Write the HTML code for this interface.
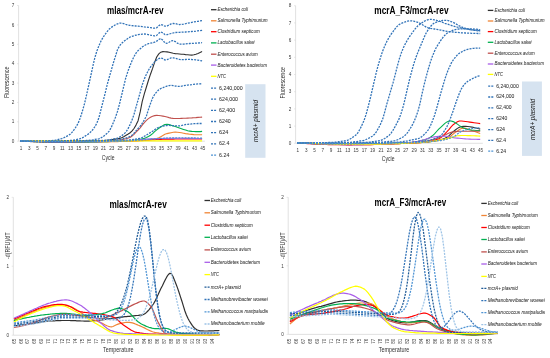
<!DOCTYPE html><html><head><meta charset="utf-8"><style>html,body{margin:0;padding:0;background:#fff;width:550px;height:358px;overflow:hidden}</style></head><body><svg width="550" height="358" viewBox="0 0 550 358" style="will-change:transform;position:absolute;left:0;top:0;font-family:'Liberation Sans', sans-serif"><rect width="550" height="358" fill="#fff"/><path d="M18.6,5.5V141.2H204.9" fill="none" stroke="#D9D9D9" stroke-width="0.8"/><path d="M17.0,141.2H18.6" stroke="#D9D9D9" stroke-width="0.6"/><text x="13.00" y="142.85" font-size="4.60" fill="#3a3a3a" text-anchor="middle">0</text><path d="M17.0,121.8H18.6" stroke="#D9D9D9" stroke-width="0.6"/><text x="13.00" y="123.47" font-size="4.60" fill="#3a3a3a" text-anchor="middle">1</text><path d="M17.0,102.4H18.6" stroke="#D9D9D9" stroke-width="0.6"/><text x="13.00" y="104.09" font-size="4.60" fill="#3a3a3a" text-anchor="middle">2</text><path d="M17.0,83.1H18.6" stroke="#D9D9D9" stroke-width="0.6"/><text x="13.00" y="84.71" font-size="4.60" fill="#3a3a3a" text-anchor="middle">3</text><path d="M17.0,63.7H18.6" stroke="#D9D9D9" stroke-width="0.6"/><text x="13.00" y="65.33" font-size="4.60" fill="#3a3a3a" text-anchor="middle">4</text><path d="M17.0,44.3H18.6" stroke="#D9D9D9" stroke-width="0.6"/><text x="13.00" y="45.95" font-size="4.60" fill="#3a3a3a" text-anchor="middle">5</text><path d="M17.0,24.9H18.6" stroke="#D9D9D9" stroke-width="0.6"/><text x="13.00" y="26.57" font-size="4.60" fill="#3a3a3a" text-anchor="middle">6</text><path d="M17.0,5.5H18.6" stroke="#D9D9D9" stroke-width="0.6"/><text x="13.00" y="7.19" font-size="4.60" fill="#3a3a3a" text-anchor="middle">7</text><text x="21.00" y="150.15" font-size="4.60" fill="#3a3a3a" text-anchor="middle">1</text><text x="29.26" y="150.15" font-size="4.60" fill="#3a3a3a" text-anchor="middle">3</text><text x="37.52" y="150.15" font-size="4.60" fill="#3a3a3a" text-anchor="middle">5</text><text x="45.78" y="150.15" font-size="4.60" fill="#3a3a3a" text-anchor="middle">7</text><text x="54.04" y="150.15" font-size="4.60" fill="#3a3a3a" text-anchor="middle">9</text><text x="62.30" y="150.15" font-size="4.60" fill="#3a3a3a" text-anchor="middle">11</text><text x="70.56" y="150.15" font-size="4.60" fill="#3a3a3a" text-anchor="middle">13</text><text x="78.82" y="150.15" font-size="4.60" fill="#3a3a3a" text-anchor="middle">15</text><text x="87.08" y="150.15" font-size="4.60" fill="#3a3a3a" text-anchor="middle">17</text><text x="95.34" y="150.15" font-size="4.60" fill="#3a3a3a" text-anchor="middle">19</text><text x="103.60" y="150.15" font-size="4.60" fill="#3a3a3a" text-anchor="middle">21</text><text x="111.86" y="150.15" font-size="4.60" fill="#3a3a3a" text-anchor="middle">23</text><text x="120.12" y="150.15" font-size="4.60" fill="#3a3a3a" text-anchor="middle">25</text><text x="128.38" y="150.15" font-size="4.60" fill="#3a3a3a" text-anchor="middle">27</text><text x="136.64" y="150.15" font-size="4.60" fill="#3a3a3a" text-anchor="middle">29</text><text x="144.90" y="150.15" font-size="4.60" fill="#3a3a3a" text-anchor="middle">31</text><text x="153.16" y="150.15" font-size="4.60" fill="#3a3a3a" text-anchor="middle">33</text><text x="161.42" y="150.15" font-size="4.60" fill="#3a3a3a" text-anchor="middle">35</text><text x="169.68" y="150.15" font-size="4.60" fill="#3a3a3a" text-anchor="middle">37</text><text x="177.94" y="150.15" font-size="4.60" fill="#3a3a3a" text-anchor="middle">39</text><text x="186.20" y="150.15" font-size="4.60" fill="#3a3a3a" text-anchor="middle">41</text><text x="194.46" y="150.15" font-size="4.60" fill="#3a3a3a" text-anchor="middle">43</text><text x="202.72" y="150.15" font-size="4.60" fill="#3a3a3a" text-anchor="middle">45</text><text x="108.20" y="159.50" font-size="6.40" fill="#333333" text-anchor="middle" textLength="12.70" lengthAdjust="spacingAndGlyphs">Cycle</text><text x="8.85" y="82.30" font-size="6.40" fill="#333333" text-anchor="middle" transform="rotate(-90 8.85 82.30)" textLength="31.40" lengthAdjust="spacingAndGlyphs">Fluorescence</text><text x="135.30" y="13.60" font-size="10.30" fill="#000" font-weight="bold" text-anchor="middle" textLength="56.60" lengthAdjust="spacingAndGlyphs">mlas/mcrA-rev</text><path d="M20.4,140.9L22.5,141.0 24.5,141.1 26.6,141.1 28.7,141.2 30.7,141.2 32.8,141.3 34.9,141.3 36.9,141.4 39.0,141.4 41.0,141.4 43.1,141.4 45.2,141.5 47.2,141.5 49.3,141.5 51.4,141.5 53.4,141.5 55.5,141.5 57.6,141.5 59.6,141.4 61.7,141.4 63.8,141.4 65.8,141.4 67.9,141.4 70.0,141.3 72.0,141.3 74.1,141.2 76.2,141.2 78.2,141.2 80.3,141.1 82.3,141.1 84.4,141.0 86.5,141.0 88.5,140.9 90.6,140.9 92.7,140.8 94.7,140.7 96.8,140.7 98.9,140.6 100.9,140.6 103.0,140.5 105.1,140.4 107.1,140.2 109.2,140.0 111.3,139.7 113.3,139.4 115.4,139.1 117.5,138.8 119.5,138.4 121.6,137.7 123.7,136.7 125.7,135.5 127.8,134.3 129.8,133.0 131.9,131.2 134.0,128.5 136.0,125.1 138.1,120.7 140.2,111.9 142.2,101.6 144.3,93.9 146.4,87.0 148.4,80.5 150.5,74.2 152.6,68.4 154.6,62.4 156.7,57.0 158.8,53.9 160.8,52.2 162.9,51.6 164.9,51.7 167.0,51.9 169.1,52.3 171.1,52.8 173.2,53.3 175.3,53.6 177.3,53.8 179.4,54.0 181.5,54.2 183.5,54.3 185.6,54.6 187.7,54.8 189.7,55.0 191.8,55.1 193.9,54.8 195.9,54.2 198.0,53.4 200.1,52.5 202.1,51.6" fill="none" stroke="#303030" stroke-width="1.10" stroke-linejoin="round"/><path d="M20.4,140.9L22.5,141.0 24.5,141.1 26.6,141.2 28.7,141.3 30.7,141.4 32.8,141.5 34.9,141.6 36.9,141.7 39.0,141.8 41.0,141.8 43.1,141.9 45.2,142.0 47.2,142.0 49.3,142.1 51.4,142.1 53.4,142.2 55.5,142.2 57.6,142.3 59.6,142.3 61.7,142.3 63.8,142.3 65.8,142.4 67.9,142.4 70.0,142.4 72.0,142.4 74.1,142.4 76.2,142.4 78.2,142.4 80.3,142.4 82.3,142.3 84.4,142.3 86.5,142.3 88.5,142.3 90.6,142.3 92.7,142.2 94.7,142.2 96.8,142.2 98.9,142.1 100.9,142.1 103.0,142.0 105.1,142.0 107.1,141.9 109.2,141.9 111.3,141.8 113.3,141.7 115.4,141.7 117.5,141.6 119.5,141.5 121.6,141.5 123.7,141.4 125.7,141.3 127.8,141.2 129.8,141.1 131.9,141.1 134.0,141.0 136.0,140.9 138.1,140.8 140.2,140.7 142.2,140.6 144.3,140.5 146.4,140.4 148.4,140.1 150.5,139.8 152.6,139.4 154.6,139.0 156.7,138.5 158.8,137.8 160.8,136.7 162.9,135.5 164.9,134.3 167.0,133.6 169.1,133.1 171.1,132.7 173.2,132.3 175.3,132.1 177.3,132.2 179.4,132.5 181.5,132.8 183.5,133.2 185.6,133.6 187.7,133.9 189.7,134.2 191.8,134.4 193.9,134.6 195.9,134.7 198.0,134.7 200.1,134.7 202.1,134.7" fill="none" stroke="#F08535" stroke-width="1.10" stroke-linejoin="round"/><path d="M20.4,140.9L22.5,140.9 24.5,141.0 26.6,141.0 28.7,141.0 30.7,141.1 32.8,141.1 34.9,141.1 36.9,141.2 39.0,141.2 41.0,141.2 43.1,141.2 45.2,141.2 47.2,141.3 49.3,141.3 51.4,141.3 53.4,141.3 55.5,141.3 57.6,141.4 59.6,141.4 61.7,141.4 63.8,141.4 65.8,141.4 67.9,141.4 70.0,141.4 72.0,141.4 74.1,141.4 76.2,141.4 78.2,141.4 80.3,141.4 82.3,141.4 84.4,141.4 86.5,141.4 88.5,141.4 90.6,141.4 92.7,141.3 94.7,141.3 96.8,141.3 98.9,141.3 100.9,141.3 103.0,141.3 105.1,141.2 107.1,141.2 109.2,141.2 111.3,141.1 113.3,141.1 115.4,141.1 117.5,141.0 119.5,141.0 121.6,141.0 123.7,140.9 125.7,140.9 127.8,140.8 129.8,140.8 131.9,140.7 134.0,140.7 136.0,140.6 138.1,140.6 140.2,140.5 142.2,140.4 144.3,140.3 146.4,140.2 148.4,140.1 150.5,139.9 152.6,139.8 154.6,139.7 156.7,139.5 158.8,139.4 160.8,139.4 162.9,139.3 164.9,139.2 167.0,139.2 169.1,139.1 171.1,139.1 173.2,139.1 175.3,139.0 177.3,139.0 179.4,139.0 181.5,139.0 183.5,138.9 185.6,138.9 187.7,138.9 189.7,138.9 191.8,138.9 193.9,138.9 195.9,138.9 198.0,138.9 200.1,138.9 202.1,139.0" fill="none" stroke="#FF0000" stroke-width="1.10" stroke-linejoin="round"/><path d="M20.4,140.9L22.5,141.0 24.5,141.1 26.6,141.2 28.7,141.3 30.7,141.4 32.8,141.5 34.9,141.6 36.9,141.7 39.0,141.8 41.0,141.8 43.1,141.9 45.2,141.9 47.2,142.0 49.3,142.0 51.4,142.1 53.4,142.1 55.5,142.2 57.6,142.2 59.6,142.2 61.7,142.2 63.8,142.2 65.8,142.2 67.9,142.2 70.0,142.2 72.0,142.2 74.1,142.2 76.2,142.2 78.2,142.2 80.3,142.2 82.3,142.2 84.4,142.1 86.5,142.1 88.5,142.1 90.6,142.0 92.7,142.0 94.7,141.9 96.8,141.9 98.9,141.8 100.9,141.8 103.0,141.7 105.1,141.6 107.1,141.6 109.2,141.5 111.3,141.4 113.3,141.3 115.4,141.3 117.5,141.2 119.5,141.1 121.6,141.0 123.7,140.9 125.7,140.8 127.8,140.7 129.8,140.6 131.9,140.5 134.0,140.4 136.0,140.1 138.1,139.7 140.2,139.3 142.2,138.9 144.3,138.4 146.4,137.5 148.4,136.5 150.5,135.2 152.6,133.6 154.6,131.7 156.7,129.9 158.8,128.3 160.8,127.0 162.9,125.6 164.9,124.6 167.0,124.3 169.1,124.6 171.1,125.2 173.2,125.9 175.3,126.6 177.3,127.3 179.4,128.0 181.5,128.7 183.5,129.4 185.6,130.1 187.7,130.8 189.7,131.1 191.8,131.4 193.9,131.5 195.9,131.6 198.0,131.6 200.1,131.6 202.1,131.4" fill="none" stroke="#00B050" stroke-width="1.10" stroke-linejoin="round"/><path d="M20.4,140.9L22.5,141.0 24.5,141.2 26.6,141.3 28.7,141.4 30.7,141.5 32.8,141.6 34.9,141.7 36.9,141.8 39.0,141.8 41.0,141.9 43.1,141.9 45.2,142.0 47.2,142.0 49.3,142.0 51.4,142.1 53.4,142.1 55.5,142.1 57.6,142.1 59.6,142.1 61.7,142.1 63.8,142.1 65.8,142.1 67.9,142.0 70.0,142.0 72.0,142.0 74.1,141.9 76.2,141.9 78.2,141.8 80.3,141.8 82.3,141.7 84.4,141.7 86.5,141.6 88.5,141.5 90.6,141.5 92.7,141.4 94.7,141.3 96.8,141.3 98.9,141.2 100.9,141.1 103.0,141.0 105.1,140.9 107.1,140.9 109.2,140.8 111.3,140.7 113.3,140.6 115.4,140.5 117.5,140.4 119.5,140.1 121.6,139.8 123.7,139.3 125.7,138.8 127.8,138.2 129.8,137.5 131.9,136.2 134.0,134.3 136.0,132.2 138.1,130.0 140.2,127.8 142.2,125.2 144.3,122.6 146.4,120.4 148.4,118.6 150.5,117.3 152.6,116.2 154.6,115.6 156.7,115.4 158.8,115.5 160.8,115.8 162.9,116.1 164.9,116.5 167.0,117.0 169.1,117.6 171.1,118.1 173.2,118.4 175.3,118.5 177.3,118.5 179.4,118.5 181.5,118.4 183.5,118.3 185.6,118.2 187.7,118.1 189.7,118.0 191.8,117.9 193.9,117.7 195.9,117.6 198.0,117.4 200.1,117.3 202.1,117.1" fill="none" stroke="#C0504D" stroke-width="1.10" stroke-linejoin="round"/><path d="M20.4,140.9L22.5,141.0 24.5,141.0 26.6,141.1 28.7,141.1 30.7,141.2 32.8,141.3 34.9,141.3 36.9,141.4 39.0,141.4 41.0,141.4 43.1,141.5 45.2,141.5 47.2,141.6 49.3,141.6 51.4,141.6 53.4,141.7 55.5,141.7 57.6,141.7 59.6,141.7 61.7,141.8 63.8,141.8 65.8,141.8 67.9,141.8 70.0,141.8 72.0,141.8 74.1,141.8 76.2,141.8 78.2,141.8 80.3,141.8 82.3,141.8 84.4,141.8 86.5,141.8 88.5,141.7 90.6,141.7 92.7,141.7 94.7,141.7 96.8,141.6 98.9,141.6 100.9,141.6 103.0,141.5 105.1,141.5 107.1,141.4 109.2,141.4 111.3,141.3 113.3,141.2 115.4,141.2 117.5,141.1 119.5,141.0 121.6,141.0 123.7,140.9 125.7,140.8 127.8,140.7 129.8,140.6 131.9,140.5 134.0,140.4 136.0,140.2 138.1,140.0 140.2,139.7 142.2,139.5 144.3,139.3 146.4,139.1 148.4,139.0 150.5,138.9 152.6,138.8 154.6,138.7 156.7,138.6 158.8,138.6 160.8,138.5 162.9,138.5 164.9,138.4 167.0,138.4 169.1,138.3 171.1,138.3 173.2,138.3 175.3,138.3 177.3,138.3 179.4,138.3 181.5,138.3 183.5,138.3 185.6,138.3 187.7,138.3 189.7,138.3 191.8,138.4 193.9,138.4 195.9,138.4 198.0,138.5 200.1,138.5 202.1,138.6" fill="none" stroke="#A95EE8" stroke-width="1.10" stroke-linejoin="round"/><path d="M20.4,140.9L22.5,140.9 24.5,140.9 26.6,140.9 28.7,140.9 30.7,140.9 32.8,140.9 34.9,140.9 36.9,140.9 39.0,140.9 41.0,140.9 43.1,140.9 45.2,140.9 47.2,140.9 49.3,140.9 51.4,140.9 53.4,140.9 55.5,140.9 57.6,140.9 59.6,140.9 61.7,140.9 63.8,140.9 65.8,140.9 67.9,140.9 70.0,140.9 72.0,140.9 74.1,140.9 76.2,140.9 78.2,140.9 80.3,140.9 82.3,140.9 84.4,140.9 86.5,140.9 88.5,140.9 90.6,140.9 92.7,140.9 94.7,140.9 96.8,140.9 98.9,140.9 100.9,140.9 103.0,140.9 105.1,140.9 107.1,140.9 109.2,140.9 111.3,140.9 113.3,140.9 115.4,140.9 117.5,140.9 119.5,140.9 121.6,140.9 123.7,140.9 125.7,140.9 127.8,140.9 129.8,140.9 131.9,140.9 134.0,140.9 136.0,140.9 138.1,140.9 140.2,140.9 142.2,140.9 144.3,140.9 146.4,140.9 148.4,140.9 150.5,140.9 152.6,140.9 154.6,140.9 156.7,140.9 158.8,140.9 160.8,140.9 162.9,140.9 164.9,140.9 167.0,140.9 169.1,140.9 171.1,140.9 173.2,140.9 175.3,140.9 177.3,140.9 179.4,140.9 181.5,140.9 183.5,140.9 185.6,140.9 187.7,140.9 189.7,140.9 191.8,140.9 193.9,140.9 195.9,140.9 198.0,140.9 200.1,140.9 202.1,140.9" fill="none" stroke="#FFFF00" stroke-width="1.10" stroke-linejoin="round"/><path d="M20.4,140.9L22.5,141.0 24.5,141.1 26.6,141.2 28.7,141.3 30.7,141.3 32.8,141.4 34.9,141.4 36.9,141.3 39.0,141.3 41.0,141.2 43.1,141.2 45.2,141.1 47.2,141.0 49.3,140.8 51.4,140.7 53.4,140.5 55.5,140.2 57.6,139.7 59.6,139.2 61.7,138.6 63.8,137.8 65.8,136.8 67.9,135.6 70.0,134.4 72.0,132.4 74.1,129.7 76.2,126.7 78.2,123.1 80.3,117.9 82.3,111.5 84.4,104.0 86.5,95.2 88.5,86.2 90.6,76.7 92.7,66.9 94.7,58.3 96.8,51.2 98.9,45.8 100.9,41.2 103.0,37.4 105.1,34.4 107.1,31.6 109.2,29.1 111.3,27.4 113.3,26.1 115.4,24.8 117.5,23.8 119.5,23.2 121.6,23.2 123.7,23.7 125.7,24.4 127.8,25.0 129.8,25.4 131.9,25.6 134.0,25.8 136.0,26.0 138.1,26.2 140.2,26.4 142.2,26.6 144.3,26.9 146.4,27.1 148.4,27.4 150.5,27.7 152.6,28.0 154.6,28.2 156.7,27.8 158.8,25.8 160.8,24.5 162.9,25.2 164.9,26.2 167.0,26.0 169.1,24.9 171.1,23.9 173.2,23.4 175.3,23.6 177.3,24.2 179.4,24.6 181.5,24.4 183.5,24.1 185.6,23.7 187.7,23.2 189.7,22.8 191.8,22.4 193.9,22.0 195.9,21.6 198.0,21.3 200.1,20.9 202.1,20.5" fill="none" stroke="#3173B8" stroke-width="1.28" stroke-linejoin="round" stroke-dasharray="2,1.1"/><path d="M20.4,140.9L22.5,141.0 24.5,141.1 26.6,141.2 28.7,141.2 30.7,141.3 32.8,141.3 34.9,141.3 36.9,141.3 39.0,141.3 41.0,141.3 43.1,141.3 45.2,141.3 47.2,141.3 49.3,141.2 51.4,141.2 53.4,141.1 55.5,141.1 57.6,141.0 59.6,140.9 61.7,140.9 63.8,140.8 65.8,140.7 67.9,140.6 70.0,140.5 72.0,140.3 74.1,140.1 76.2,139.7 78.2,139.2 80.3,138.7 82.3,137.9 84.4,136.6 86.5,135.2 88.5,133.9 90.6,132.1 92.7,129.8 94.7,126.9 96.8,123.3 98.9,117.7 100.9,109.9 103.0,101.5 105.1,93.4 107.1,85.1 109.2,77.4 111.3,70.1 113.3,63.1 115.4,56.4 117.5,49.6 119.5,45.9 121.6,43.4 123.7,41.5 125.7,40.0 127.8,38.5 129.8,37.2 131.9,36.3 134.0,35.7 136.0,35.2 138.1,34.7 140.2,34.4 142.2,34.1 144.3,34.0 146.4,34.2 148.4,34.6 150.5,35.2 152.6,35.6 154.6,35.9 156.7,35.4 158.8,33.2 160.8,31.9 162.9,33.0 164.9,34.6 167.0,34.6 169.1,34.1 171.1,33.5 173.2,33.0 175.3,32.5 177.3,32.4 179.4,32.3 181.5,32.2 183.5,32.1 185.6,32.0 187.7,31.9 189.7,31.7 191.8,31.5 193.9,31.3 195.9,31.1 198.0,30.8 200.1,30.6 202.1,30.3" fill="none" stroke="#3173B8" stroke-width="1.28" stroke-linejoin="round" stroke-dasharray="2,1.1"/><path d="M20.4,140.9L22.5,141.0 24.5,141.1 26.6,141.1 28.7,141.2 30.7,141.2 32.8,141.3 34.9,141.3 36.9,141.3 39.0,141.3 41.0,141.4 43.1,141.4 45.2,141.4 47.2,141.3 49.3,141.3 51.4,141.3 53.4,141.3 55.5,141.3 57.6,141.2 59.6,141.2 61.7,141.1 63.8,141.1 65.8,141.1 67.9,141.0 70.0,141.0 72.0,140.9 74.1,140.9 76.2,140.8 78.2,140.7 80.3,140.7 82.3,140.6 84.4,140.6 86.5,140.5 88.5,140.4 90.6,140.2 92.7,139.9 94.7,139.5 96.8,139.2 98.9,138.8 100.9,137.9 103.0,136.7 105.1,135.0 107.1,133.2 109.2,131.1 111.3,127.4 113.3,122.7 115.4,117.5 117.5,111.4 119.5,104.0 121.6,95.3 123.7,86.3 125.7,78.2 127.8,71.6 129.8,66.2 131.9,61.1 134.0,56.6 136.0,53.1 138.1,50.6 140.2,48.8 142.2,47.1 144.3,45.6 146.4,44.4 148.4,43.7 150.5,43.2 152.6,42.8 154.6,42.2 156.7,41.2 158.8,39.5 160.8,38.5 162.9,40.2 164.9,43.0 167.0,43.3 169.1,42.2 171.1,40.9 173.2,40.6 175.3,41.6 177.3,43.1 179.4,44.1 181.5,44.2 183.5,44.1 185.6,43.9 187.7,43.7 189.7,43.5 191.8,43.4 193.9,43.3 195.9,43.1 198.0,43.0 200.1,42.8 202.1,42.7" fill="none" stroke="#3173B8" stroke-width="1.28" stroke-linejoin="round" stroke-dasharray="2,1.1"/><path d="M20.4,140.9L22.5,141.0 24.5,141.1 26.6,141.2 28.7,141.3 30.7,141.3 32.8,141.4 34.9,141.4 36.9,141.5 39.0,141.5 41.0,141.6 43.1,141.6 45.2,141.6 47.2,141.6 49.3,141.7 51.4,141.7 53.4,141.7 55.5,141.7 57.6,141.6 59.6,141.6 61.7,141.6 63.8,141.6 65.8,141.6 67.9,141.5 70.0,141.5 72.0,141.4 74.1,141.4 76.2,141.4 78.2,141.3 80.3,141.2 82.3,141.2 84.4,141.1 86.5,141.1 88.5,141.0 90.6,140.9 92.7,140.9 94.7,140.8 96.8,140.7 98.9,140.7 100.9,140.6 103.0,140.5 105.1,140.4 107.1,140.1 109.2,139.8 111.3,139.5 113.3,139.1 115.4,138.7 117.5,138.1 119.5,137.1 121.6,135.7 123.7,134.2 125.7,132.3 127.8,129.2 129.8,125.1 131.9,120.4 134.0,114.5 136.0,107.2 138.1,99.9 140.2,92.4 142.2,85.0 144.3,79.0 146.4,74.3 148.4,70.3 150.5,67.0 152.6,64.4 154.6,61.9 156.7,60.0 158.8,58.6 160.8,57.8 162.9,58.7 164.9,60.0 167.0,59.7 169.1,58.8 171.1,57.9 173.2,57.9 175.3,58.3 177.3,58.8 179.4,59.3 181.5,59.7 183.5,59.7 185.6,59.5 187.7,59.4 189.7,59.3 191.8,59.5 193.9,59.6 195.9,59.9 198.0,60.2 200.1,60.5 202.1,60.9" fill="none" stroke="#3173B8" stroke-width="1.28" stroke-linejoin="round" stroke-dasharray="2,1.1"/><path d="M20.4,140.9L22.5,141.0 24.5,141.2 26.6,141.3 28.7,141.4 30.7,141.5 32.8,141.6 34.9,141.6 36.9,141.7 39.0,141.8 41.0,141.8 43.1,141.9 45.2,141.9 47.2,141.9 49.3,142.0 51.4,142.0 53.4,142.0 55.5,142.0 57.6,142.0 59.6,142.0 61.7,142.0 63.8,141.9 65.8,141.9 67.9,141.9 70.0,141.8 72.0,141.8 74.1,141.8 76.2,141.7 78.2,141.7 80.3,141.6 82.3,141.5 84.4,141.5 86.5,141.4 88.5,141.3 90.6,141.3 92.7,141.2 94.7,141.1 96.8,141.1 98.9,141.0 100.9,140.9 103.0,140.8 105.1,140.7 107.1,140.7 109.2,140.6 111.3,140.5 113.3,140.4 115.4,140.2 117.5,139.9 119.5,139.5 121.6,139.0 123.7,138.5 125.7,138.0 127.8,137.4 129.8,136.7 131.9,135.3 134.0,133.3 136.0,130.9 138.1,128.5 140.2,126.1 142.2,123.3 144.3,120.0 146.4,116.0 148.4,109.6 150.5,103.5 152.6,98.0 154.6,94.5 156.7,91.9 158.8,89.8 160.8,88.5 162.9,87.7 164.9,86.8 167.0,86.1 169.1,85.6 171.1,85.4 173.2,85.6 175.3,86.0 177.3,86.3 179.4,86.4 181.5,86.2 183.5,85.8 185.6,85.4 187.7,85.1 189.7,84.8 191.8,84.6 193.9,84.3 195.9,84.1 198.0,83.9 200.1,83.8 202.1,83.7" fill="none" stroke="#3173B8" stroke-width="1.28" stroke-linejoin="round" stroke-dasharray="2,1.1"/><path d="M20.4,140.9L22.5,141.0 24.5,141.0 26.6,141.1 28.7,141.1 30.7,141.2 32.8,141.2 34.9,141.3 36.9,141.3 39.0,141.3 41.0,141.3 43.1,141.4 45.2,141.4 47.2,141.4 49.3,141.4 51.4,141.4 53.4,141.4 55.5,141.4 57.6,141.4 59.6,141.4 61.7,141.4 63.8,141.4 65.8,141.4 67.9,141.4 70.0,141.4 72.0,141.3 74.1,141.3 76.2,141.3 78.2,141.3 80.3,141.2 82.3,141.2 84.4,141.2 86.5,141.1 88.5,141.1 90.6,141.1 92.7,141.0 94.7,141.0 96.8,141.0 98.9,140.9 100.9,140.9 103.0,140.8 105.1,140.8 107.1,140.8 109.2,140.7 111.3,140.7 113.3,140.6 115.4,140.6 117.5,140.6 119.5,140.5 121.6,140.5 123.7,140.4 125.7,140.2 127.8,140.1 129.8,139.9 131.9,139.6 134.0,139.4 136.0,139.1 138.1,138.7 140.2,138.3 142.2,137.5 144.3,136.3 146.4,135.1 148.4,133.8 150.5,132.5 152.6,131.2 154.6,129.7 156.7,128.4 158.8,127.3 160.8,126.6 162.9,126.1 164.9,125.7 167.0,125.5 169.1,125.4 171.1,125.5 173.2,125.7 175.3,125.8 177.3,125.9 179.4,125.9 181.5,125.5 183.5,125.0 185.6,124.5 187.7,124.3 189.7,124.1 191.8,123.9 193.9,123.7 195.9,123.6 198.0,123.5 200.1,123.5 202.1,123.5" fill="none" stroke="#3173B8" stroke-width="1.28" stroke-linejoin="round" stroke-dasharray="2,1.1"/><path d="M20.4,140.9L22.5,140.9 24.5,141.0 26.6,141.0 28.7,141.1 30.7,141.1 32.8,141.2 34.9,141.2 36.9,141.3 39.0,141.3 41.0,141.3 43.1,141.4 45.2,141.4 47.2,141.4 49.3,141.5 51.4,141.5 53.4,141.5 55.5,141.5 57.6,141.6 59.6,141.6 61.7,141.6 63.8,141.6 65.8,141.6 67.9,141.6 70.0,141.6 72.0,141.6 74.1,141.7 76.2,141.7 78.2,141.6 80.3,141.6 82.3,141.6 84.4,141.6 86.5,141.6 88.5,141.6 90.6,141.6 92.7,141.6 94.7,141.5 96.8,141.5 98.9,141.5 100.9,141.4 103.0,141.4 105.1,141.4 107.1,141.3 109.2,141.3 111.3,141.2 113.3,141.2 115.4,141.1 117.5,141.0 119.5,141.0 121.6,140.9 123.7,140.8 125.7,140.8 127.8,140.7 129.8,140.6 131.9,140.5 134.0,140.4 136.0,140.3 138.1,140.1 140.2,140.0 142.2,139.8 144.3,139.6 146.4,139.5 148.4,139.3 150.5,139.1 152.6,139.0 154.6,138.8 156.7,138.7 158.8,138.5 160.8,138.4 162.9,138.3 164.9,138.2 167.0,138.1 169.1,138.1 171.1,138.0 173.2,138.0 175.3,138.0 177.3,137.9 179.4,137.9 181.5,137.9 183.5,137.9 185.6,137.9 187.7,138.0 189.7,138.0 191.8,138.0 193.9,138.0 195.9,138.1 198.0,138.1 200.1,138.1 202.1,138.2" fill="none" stroke="#4F94D4" stroke-width="1.28" stroke-linejoin="round" stroke-dasharray="2,1.1"/><path d="M211.0,9.7H216.5" stroke="#303030" stroke-width="1.3"/><text x="217.50" y="11.15" font-size="6.00" fill="#303030" font-style="italic" stroke="#303030" stroke-width="0.05" textLength="30.50" lengthAdjust="spacingAndGlyphs">Escherichia coli</text><path d="M211.0,20.8H216.5" stroke="#F08535" stroke-width="1.3"/><text x="217.50" y="22.25" font-size="6.00" fill="#303030" font-style="italic" stroke="#303030" stroke-width="0.05" textLength="50.20" lengthAdjust="spacingAndGlyphs">Salmonella Typhimurium</text><path d="M211.0,31.7H216.5" stroke="#FF0000" stroke-width="1.3"/><text x="217.50" y="33.15" font-size="6.00" fill="#303030" font-style="italic" stroke="#303030" stroke-width="0.05" textLength="42.20" lengthAdjust="spacingAndGlyphs">Clostridium septicum</text><path d="M211.0,42.9H216.5" stroke="#00B050" stroke-width="1.3"/><text x="217.50" y="44.35" font-size="6.00" fill="#303030" font-style="italic" stroke="#303030" stroke-width="0.05" textLength="37.10" lengthAdjust="spacingAndGlyphs">Lactobacillus sakei</text><path d="M211.0,54.2H216.5" stroke="#C0504D" stroke-width="1.3"/><text x="217.50" y="55.65" font-size="6.00" fill="#303030" font-style="italic" stroke="#303030" stroke-width="0.05" textLength="40.30" lengthAdjust="spacingAndGlyphs">Enterococcus avium</text><path d="M211.0,65.1H216.5" stroke="#A95EE8" stroke-width="1.3"/><text x="217.50" y="66.55" font-size="6.00" fill="#303030" font-style="italic" stroke="#303030" stroke-width="0.05" textLength="49.50" lengthAdjust="spacingAndGlyphs">Bacteroidetes bacterium</text><path d="M211.0,76.3H216.5" stroke="#FFFF00" stroke-width="1.3"/><text x="217.50" y="77.75" font-size="6.00" fill="#303030" font-style="italic" stroke="#303030" stroke-width="0.05" textLength="8.30" lengthAdjust="spacingAndGlyphs">NTC</text><path d="M211.0,88.1H216.5" stroke="#3173B8" stroke-width="1.3" stroke-dasharray="2,1.1"/><text x="219.10" y="89.55" font-size="5.60" fill="#303030" stroke="#303030" stroke-width="0.05" textLength="23.50" lengthAdjust="spacingAndGlyphs">6,240,000</text><path d="M211.0,99.2H216.5" stroke="#3173B8" stroke-width="1.3" stroke-dasharray="2,1.1"/><text x="219.10" y="100.65" font-size="5.60" fill="#303030" stroke="#303030" stroke-width="0.05" textLength="18.90" lengthAdjust="spacingAndGlyphs">624,000</text><path d="M211.0,110.4H216.5" stroke="#3173B8" stroke-width="1.3" stroke-dasharray="2,1.1"/><text x="219.10" y="111.85" font-size="5.60" fill="#303030" stroke="#303030" stroke-width="0.05" textLength="16.00" lengthAdjust="spacingAndGlyphs">62,400</text><path d="M211.0,121.5H216.5" stroke="#3173B8" stroke-width="1.3" stroke-dasharray="2,1.1"/><text x="219.10" y="122.95" font-size="5.60" fill="#303030" stroke="#303030" stroke-width="0.05" textLength="11.60" lengthAdjust="spacingAndGlyphs">6240</text><path d="M211.0,132.7H216.5" stroke="#3173B8" stroke-width="1.3" stroke-dasharray="2,1.1"/><text x="219.10" y="134.15" font-size="5.60" fill="#303030" stroke="#303030" stroke-width="0.05" textLength="9.20" lengthAdjust="spacingAndGlyphs">624</text><path d="M211.0,143.8H216.5" stroke="#3173B8" stroke-width="1.3" stroke-dasharray="2,1.1"/><text x="219.10" y="145.25" font-size="5.60" fill="#303030" stroke="#303030" stroke-width="0.05" textLength="10.20" lengthAdjust="spacingAndGlyphs">62.4</text><path d="M211.0,155.1H216.5" stroke="#4F94D4" stroke-width="1.3" stroke-dasharray="2,1.1"/><text x="219.10" y="156.55" font-size="5.60" fill="#303030" stroke="#303030" stroke-width="0.05" textLength="10.20" lengthAdjust="spacingAndGlyphs">6.24</text><rect x="245.20" y="84.20" width="20.30" height="73.60" fill="#D6E3F0"/><text x="257.60" y="121.00" font-size="6.40" fill="#1a1a1a" font-style="italic" text-anchor="middle" transform="rotate(-90 257.60 121.00)" textLength="42.00" lengthAdjust="spacingAndGlyphs">mcrA+ plasmid</text><path d="M295.6,5.7V143.3H482.8" fill="none" stroke="#D9D9D9" stroke-width="0.8"/><path d="M294.0,143.3H295.6" stroke="#D9D9D9" stroke-width="0.6"/><text x="290.00" y="144.95" font-size="4.60" fill="#3a3a3a" text-anchor="middle">0</text><path d="M294.0,126.1H295.6" stroke="#D9D9D9" stroke-width="0.6"/><text x="290.00" y="127.75" font-size="4.60" fill="#3a3a3a" text-anchor="middle">1</text><path d="M294.0,108.9H295.6" stroke="#D9D9D9" stroke-width="0.6"/><text x="290.00" y="110.55" font-size="4.60" fill="#3a3a3a" text-anchor="middle">2</text><path d="M294.0,91.7H295.6" stroke="#D9D9D9" stroke-width="0.6"/><text x="290.00" y="93.35" font-size="4.60" fill="#3a3a3a" text-anchor="middle">3</text><path d="M294.0,74.5H295.6" stroke="#D9D9D9" stroke-width="0.6"/><text x="290.00" y="76.15" font-size="4.60" fill="#3a3a3a" text-anchor="middle">4</text><path d="M294.0,57.3H295.6" stroke="#D9D9D9" stroke-width="0.6"/><text x="290.00" y="58.95" font-size="4.60" fill="#3a3a3a" text-anchor="middle">5</text><path d="M294.0,40.1H295.6" stroke="#D9D9D9" stroke-width="0.6"/><text x="290.00" y="41.75" font-size="4.60" fill="#3a3a3a" text-anchor="middle">6</text><path d="M294.0,22.9H295.6" stroke="#D9D9D9" stroke-width="0.6"/><text x="290.00" y="24.55" font-size="4.60" fill="#3a3a3a" text-anchor="middle">7</text><path d="M294.0,5.7H295.6" stroke="#D9D9D9" stroke-width="0.6"/><text x="290.00" y="7.35" font-size="4.60" fill="#3a3a3a" text-anchor="middle">8</text><text x="297.90" y="151.95" font-size="4.60" fill="#3a3a3a" text-anchor="middle">1</text><text x="306.20" y="151.95" font-size="4.60" fill="#3a3a3a" text-anchor="middle">3</text><text x="314.51" y="151.95" font-size="4.60" fill="#3a3a3a" text-anchor="middle">5</text><text x="322.81" y="151.95" font-size="4.60" fill="#3a3a3a" text-anchor="middle">7</text><text x="331.12" y="151.95" font-size="4.60" fill="#3a3a3a" text-anchor="middle">9</text><text x="339.42" y="151.95" font-size="4.60" fill="#3a3a3a" text-anchor="middle">11</text><text x="347.72" y="151.95" font-size="4.60" fill="#3a3a3a" text-anchor="middle">13</text><text x="356.03" y="151.95" font-size="4.60" fill="#3a3a3a" text-anchor="middle">15</text><text x="364.33" y="151.95" font-size="4.60" fill="#3a3a3a" text-anchor="middle">17</text><text x="372.64" y="151.95" font-size="4.60" fill="#3a3a3a" text-anchor="middle">19</text><text x="380.94" y="151.95" font-size="4.60" fill="#3a3a3a" text-anchor="middle">21</text><text x="389.24" y="151.95" font-size="4.60" fill="#3a3a3a" text-anchor="middle">23</text><text x="397.55" y="151.95" font-size="4.60" fill="#3a3a3a" text-anchor="middle">25</text><text x="405.85" y="151.95" font-size="4.60" fill="#3a3a3a" text-anchor="middle">27</text><text x="414.16" y="151.95" font-size="4.60" fill="#3a3a3a" text-anchor="middle">29</text><text x="422.46" y="151.95" font-size="4.60" fill="#3a3a3a" text-anchor="middle">31</text><text x="430.76" y="151.95" font-size="4.60" fill="#3a3a3a" text-anchor="middle">33</text><text x="439.07" y="151.95" font-size="4.60" fill="#3a3a3a" text-anchor="middle">35</text><text x="447.37" y="151.95" font-size="4.60" fill="#3a3a3a" text-anchor="middle">37</text><text x="455.68" y="151.95" font-size="4.60" fill="#3a3a3a" text-anchor="middle">39</text><text x="463.98" y="151.95" font-size="4.60" fill="#3a3a3a" text-anchor="middle">41</text><text x="472.28" y="151.95" font-size="4.60" fill="#3a3a3a" text-anchor="middle">43</text><text x="480.59" y="151.95" font-size="4.60" fill="#3a3a3a" text-anchor="middle">45</text><text x="388.20" y="160.70" font-size="6.40" fill="#333333" text-anchor="middle" textLength="12.70" lengthAdjust="spacingAndGlyphs">Cycle</text><text x="285.20" y="82.70" font-size="6.40" fill="#333333" text-anchor="middle" transform="rotate(-90 285.20 82.70)" textLength="31.40" lengthAdjust="spacingAndGlyphs">Fluorescence</text><text x="411.40" y="13.60" font-size="10.30" fill="#000" font-weight="bold" text-anchor="middle" textLength="74.30" lengthAdjust="spacingAndGlyphs">mcrA_F3/mcrA-rev</text><path d="M297.4,142.8L299.5,142.9 301.6,143.0 303.6,143.1 305.7,143.2 307.8,143.2 309.9,143.3 311.9,143.4 314.0,143.4 316.1,143.5 318.2,143.6 320.3,143.6 322.3,143.7 324.4,143.7 326.5,143.8 328.6,143.8 330.6,143.8 332.7,143.9 334.8,143.9 336.9,143.9 338.9,144.0 341.0,144.0 343.1,144.0 345.2,144.0 347.3,144.0 349.3,144.0 351.4,144.0 353.5,144.0 355.6,144.0 357.6,144.0 359.7,144.0 361.8,144.0 363.9,144.0 366.0,144.0 368.0,143.9 370.1,143.9 372.2,143.9 374.3,143.8 376.3,143.8 378.4,143.8 380.5,143.7 382.6,143.7 384.7,143.7 386.7,143.6 388.8,143.6 390.9,143.5 393.0,143.4 395.0,143.4 397.1,143.3 399.2,143.3 401.3,143.2 403.4,143.1 405.4,143.1 407.5,143.0 409.6,142.9 411.7,142.9 413.7,142.8 415.8,142.7 417.9,142.6 420.0,142.5 422.0,142.5 424.1,142.3 426.2,142.1 428.3,141.9 430.4,141.6 432.4,141.3 434.5,140.9 436.6,140.6 438.7,140.2 440.7,139.8 442.8,139.1 444.9,138.2 447.0,137.2 449.1,135.6 451.1,133.6 453.2,131.7 455.3,130.0 457.4,128.4 459.4,127.2 461.5,126.6 463.6,126.4 465.7,126.3 467.8,126.5 469.8,126.7 471.9,127.1 474.0,127.5 476.1,128.0 478.1,128.5 480.2,129.1" fill="none" stroke="#303030" stroke-width="1.10" stroke-linejoin="round"/><path d="M297.4,142.8L299.5,142.9 301.6,143.0 303.6,143.1 305.7,143.2 307.8,143.2 309.9,143.3 311.9,143.4 314.0,143.5 316.1,143.5 318.2,143.6 320.3,143.7 322.3,143.7 324.4,143.8 326.5,143.8 328.6,143.9 330.6,143.9 332.7,144.0 334.8,144.0 336.9,144.1 338.9,144.1 341.0,144.1 343.1,144.2 345.2,144.2 347.3,144.2 349.3,144.2 351.4,144.2 353.5,144.2 355.6,144.2 357.6,144.2 359.7,144.2 361.8,144.2 363.9,144.2 366.0,144.2 368.0,144.2 370.1,144.2 372.2,144.1 374.3,144.1 376.3,144.1 378.4,144.1 380.5,144.0 382.6,144.0 384.7,143.9 386.7,143.9 388.8,143.8 390.9,143.8 393.0,143.7 395.0,143.6 397.1,143.6 399.2,143.5 401.3,143.4 403.4,143.3 405.4,143.3 407.5,143.2 409.6,143.1 411.7,143.0 413.7,142.9 415.8,142.8 417.9,142.7 420.0,142.6 422.0,142.5 424.1,142.3 426.2,142.1 428.3,141.8 430.4,141.5 432.4,141.2 434.5,140.9 436.6,140.6 438.7,140.2 440.7,139.9 442.8,139.5 444.9,139.0 447.0,138.3 449.1,137.2 451.1,135.7 453.2,134.0 455.3,132.4 457.4,131.0 459.4,129.5 461.5,128.4 463.6,128.1 465.7,128.4 467.8,129.0 469.8,129.7 471.9,130.5 474.0,131.2 476.1,131.9 478.1,132.7 480.2,133.6" fill="none" stroke="#F08535" stroke-width="1.10" stroke-linejoin="round"/><path d="M297.4,142.8L299.5,143.0 301.6,143.1 303.6,143.3 305.7,143.4 307.8,143.6 309.9,143.7 311.9,143.8 314.0,143.9 316.1,144.1 318.2,144.2 320.3,144.3 322.3,144.3 324.4,144.4 326.5,144.5 328.6,144.6 330.6,144.6 332.7,144.7 334.8,144.7 336.9,144.7 338.9,144.8 341.0,144.8 343.1,144.8 345.2,144.8 347.3,144.9 349.3,144.9 351.4,144.9 353.5,144.8 355.6,144.8 357.6,144.8 359.7,144.8 361.8,144.8 363.9,144.7 366.0,144.7 368.0,144.7 370.1,144.6 372.2,144.6 374.3,144.5 376.3,144.5 378.4,144.4 380.5,144.3 382.6,144.3 384.7,144.2 386.7,144.1 388.8,144.0 390.9,144.0 393.0,143.9 395.0,143.8 397.1,143.7 399.2,143.6 401.3,143.5 403.4,143.4 405.4,143.3 407.5,143.2 409.6,143.1 411.7,143.0 413.7,142.9 415.8,142.8 417.9,142.7 420.0,142.6 422.0,142.5 424.1,142.3 426.2,142.0 428.3,141.7 430.4,141.2 432.4,140.7 434.5,140.1 436.6,139.4 438.7,138.7 440.7,137.7 442.8,136.0 444.9,133.8 447.0,131.6 449.1,129.3 451.1,126.8 453.2,124.7 455.3,123.1 457.4,121.7 459.4,121.0 461.5,121.0 463.6,121.2 465.7,121.5 467.8,121.8 469.8,122.1 471.9,122.4 474.0,122.7 476.1,123.0 478.1,123.3 480.2,123.6" fill="none" stroke="#FF0000" stroke-width="1.10" stroke-linejoin="round"/><path d="M297.4,142.8L299.5,142.9 301.6,143.1 303.6,143.2 305.7,143.3 307.8,143.4 309.9,143.5 311.9,143.6 314.0,143.7 316.1,143.8 318.2,143.8 320.3,143.9 322.3,144.0 324.4,144.0 326.5,144.1 328.6,144.1 330.6,144.2 332.7,144.2 334.8,144.3 336.9,144.3 338.9,144.3 341.0,144.3 343.1,144.3 345.2,144.3 347.3,144.3 349.3,144.3 351.4,144.3 353.5,144.3 355.6,144.3 357.6,144.3 359.7,144.2 361.8,144.2 363.9,144.2 366.0,144.1 368.0,144.1 370.1,144.0 372.2,144.0 374.3,143.9 376.3,143.9 378.4,143.8 380.5,143.7 382.6,143.7 384.7,143.6 386.7,143.5 388.8,143.4 390.9,143.4 393.0,143.3 395.0,143.2 397.1,143.1 399.2,143.0 401.3,142.9 403.4,142.8 405.4,142.7 407.5,142.6 409.6,142.5 411.7,142.3 413.7,142.0 415.8,141.7 417.9,141.3 420.0,140.8 422.0,140.4 424.1,139.9 426.2,139.3 428.3,138.4 430.4,137.2 432.4,135.8 434.5,133.8 436.6,131.5 438.7,129.2 440.7,127.3 442.8,125.3 444.9,123.4 447.0,121.9 449.1,121.0 451.1,121.0 453.2,121.6 455.3,122.7 457.4,124.1 459.4,125.6 461.5,126.9 463.6,127.9 465.7,128.7 467.8,129.4 469.8,129.8 471.9,130.1 474.0,130.3 476.1,130.5 478.1,130.5 480.2,130.5" fill="none" stroke="#00B050" stroke-width="1.10" stroke-linejoin="round"/><path d="M297.4,142.8L299.5,142.9 301.6,143.1 303.6,143.2 305.7,143.3 307.8,143.4 309.9,143.5 311.9,143.6 314.0,143.7 316.1,143.8 318.2,143.9 320.3,144.0 322.3,144.1 324.4,144.1 326.5,144.2 328.6,144.3 330.6,144.3 332.7,144.4 334.8,144.4 336.9,144.5 338.9,144.5 341.0,144.6 343.1,144.6 345.2,144.6 347.3,144.6 349.3,144.7 351.4,144.7 353.5,144.7 355.6,144.7 357.6,144.7 359.7,144.7 361.8,144.7 363.9,144.7 366.0,144.6 368.0,144.6 370.1,144.6 372.2,144.5 374.3,144.5 376.3,144.5 378.4,144.4 380.5,144.3 382.6,144.3 384.7,144.2 386.7,144.1 388.8,144.1 390.9,144.0 393.0,143.9 395.0,143.8 397.1,143.7 399.2,143.6 401.3,143.5 403.4,143.4 405.4,143.3 407.5,143.2 409.6,143.0 411.7,142.9 413.7,142.8 415.8,142.6 417.9,142.5 420.0,142.3 422.0,142.0 424.1,141.6 426.2,141.2 428.3,140.7 430.4,140.2 432.4,139.7 434.5,139.1 436.6,138.5 438.7,137.7 440.7,137.0 442.8,136.1 444.9,135.0 447.0,133.9 449.1,133.0 451.1,132.4 453.2,131.9 455.3,131.6 457.4,131.4 459.4,131.3 461.5,131.3 463.6,131.3 465.7,131.3 467.8,131.3 469.8,131.3 471.9,131.3 474.0,131.3 476.1,131.3 478.1,131.3 480.2,131.3" fill="none" stroke="#C0504D" stroke-width="1.10" stroke-linejoin="round"/><path d="M297.4,142.8L299.5,142.9 301.6,143.1 303.6,143.2 305.7,143.3 307.8,143.4 309.9,143.5 311.9,143.6 314.0,143.7 316.1,143.8 318.2,143.9 320.3,144.0 322.3,144.0 324.4,144.1 326.5,144.2 328.6,144.3 330.6,144.3 332.7,144.4 334.8,144.4 336.9,144.5 338.9,144.5 341.0,144.5 343.1,144.6 345.2,144.6 347.3,144.6 349.3,144.6 351.4,144.6 353.5,144.6 355.6,144.6 357.6,144.6 359.7,144.6 361.8,144.6 363.9,144.5 366.0,144.5 368.0,144.5 370.1,144.4 372.2,144.4 374.3,144.3 376.3,144.3 378.4,144.2 380.5,144.1 382.6,144.0 384.7,144.0 386.7,143.9 388.8,143.8 390.9,143.7 393.0,143.6 395.0,143.4 397.1,143.3 399.2,143.2 401.3,143.1 403.4,142.9 405.4,142.8 407.5,142.6 409.6,142.5 411.7,142.2 413.7,141.9 415.8,141.6 417.9,141.2 420.0,140.7 422.0,140.2 424.1,139.7 426.2,139.0 428.3,138.3 430.4,137.7 432.4,137.3 434.5,136.9 436.6,136.6 438.7,136.4 440.7,136.2 442.8,136.2 444.9,136.2 447.0,136.3 449.1,136.7 451.1,137.1 453.2,137.6 455.3,137.9 457.4,138.1 459.4,138.3 461.5,138.5 463.6,138.7 465.7,138.9 467.8,139.0 469.8,139.1 471.9,139.2 474.0,139.2 476.1,139.3 478.1,139.4 480.2,139.4" fill="none" stroke="#A95EE8" stroke-width="1.10" stroke-linejoin="round"/><path d="M297.4,142.8L299.5,142.9 301.6,143.0 303.6,143.1 305.7,143.2 307.8,143.3 309.9,143.3 311.9,143.4 314.0,143.5 316.1,143.6 318.2,143.6 320.3,143.7 322.3,143.8 324.4,143.8 326.5,143.9 328.6,143.9 330.6,144.0 332.7,144.0 334.8,144.1 336.9,144.1 338.9,144.1 341.0,144.2 343.1,144.2 345.2,144.2 347.3,144.2 349.3,144.3 351.4,144.3 353.5,144.3 355.6,144.3 357.6,144.3 359.7,144.3 361.8,144.3 363.9,144.3 366.0,144.3 368.0,144.3 370.1,144.2 372.2,144.2 374.3,144.2 376.3,144.2 378.4,144.1 380.5,144.1 382.6,144.0 384.7,144.0 386.7,143.9 388.8,143.9 390.9,143.8 393.0,143.8 395.0,143.7 397.1,143.6 399.2,143.6 401.3,143.5 403.4,143.4 405.4,143.3 407.5,143.2 409.6,143.1 411.7,143.0 413.7,142.9 415.8,142.8 417.9,142.7 420.0,142.6 422.0,142.5 424.1,142.3 426.2,142.1 428.3,141.8 430.4,141.6 432.4,141.2 434.5,140.9 436.6,140.6 438.7,140.2 440.7,139.9 442.8,139.5 444.9,139.1 447.0,138.6 449.1,138.1 451.1,137.6 453.2,137.1 455.3,136.3 457.4,135.7 459.4,135.6 461.5,135.5 463.6,135.5 465.7,135.5 467.8,135.6 469.8,135.6 471.9,135.7 474.0,135.8 476.1,135.9 478.1,136.0 480.2,136.1" fill="none" stroke="#FFFF00" stroke-width="1.10" stroke-linejoin="round"/><path d="M297.4,142.8L299.5,142.9 301.6,142.9 303.6,143.0 305.7,143.0 307.8,143.1 309.9,143.1 311.9,143.1 314.0,143.1 316.1,143.1 318.2,143.1 320.3,143.1 322.3,143.0 324.4,143.0 326.5,143.0 328.6,142.9 330.6,142.9 332.7,142.9 334.8,142.8 336.9,142.8 338.9,142.7 341.0,142.6 343.1,142.6 345.2,142.5 347.3,142.5 349.3,142.4 351.4,142.2 353.5,141.9 355.6,141.7 357.6,141.4 359.7,141.0 361.8,140.7 363.9,140.3 366.0,139.5 368.0,138.6 370.1,137.5 372.2,136.3 374.3,134.6 376.3,131.9 378.4,128.3 380.5,124.1 382.6,119.3 384.7,112.1 386.7,104.4 388.8,97.3 390.9,90.1 393.0,82.9 395.0,75.4 397.1,67.0 399.2,59.3 401.3,52.9 403.4,47.7 405.4,43.6 407.5,39.8 409.6,36.5 411.7,33.6 413.7,30.8 415.8,28.1 417.9,25.8 420.0,24.2 422.0,22.8 424.1,21.4 426.2,20.3 428.3,19.6 430.4,19.3 432.4,19.5 434.5,19.9 436.6,20.4 438.7,21.0 440.7,21.7 442.8,22.5 444.9,23.3 447.0,24.0 449.1,24.7 451.1,25.3 453.2,26.0 455.3,26.6 457.4,27.2 459.4,27.7 461.5,28.2 463.6,28.6 465.7,28.9 467.8,29.2 469.8,29.5 471.9,29.8 474.0,30.0 476.1,30.2 478.1,30.4 480.2,30.5" fill="none" stroke="#3173B8" stroke-width="1.28" stroke-linejoin="round" stroke-dasharray="2,1.1"/><path d="M297.4,142.8L299.5,142.9 301.6,142.9 303.6,143.0 305.7,143.0 307.8,143.1 309.9,143.1 311.9,143.1 314.0,143.2 316.1,143.2 318.2,143.2 320.3,143.2 322.3,143.2 324.4,143.2 326.5,143.2 328.6,143.1 330.6,143.1 332.7,143.1 334.8,143.1 336.9,143.0 338.9,143.0 341.0,143.0 343.1,142.9 345.2,142.9 347.3,142.8 349.3,142.8 351.4,142.8 353.5,142.7 355.6,142.7 357.6,142.6 359.7,142.6 361.8,142.5 363.9,142.5 366.0,142.4 368.0,142.2 370.1,142.0 372.2,141.7 374.3,141.5 376.3,141.2 378.4,140.9 380.5,140.5 382.6,139.7 384.7,138.5 386.7,137.1 388.8,135.7 390.9,133.4 393.0,130.3 395.0,126.7 397.1,122.8 399.2,118.6 401.3,112.8 403.4,105.9 405.4,97.5 407.5,88.1 409.6,79.1 411.7,71.3 413.7,64.1 415.8,57.8 417.9,52.3 420.0,47.3 422.0,42.4 424.1,37.4 426.2,32.9 428.3,29.6 430.4,26.7 432.4,24.4 434.5,22.9 436.6,22.2 438.7,21.5 440.7,20.9 442.8,20.5 444.9,20.3 447.0,20.4 449.1,20.9 451.1,21.6 453.2,22.4 455.3,23.5 457.4,24.7 459.4,25.9 461.5,26.9 463.6,27.8 465.7,28.4 467.8,28.9 469.8,29.5 471.9,29.9 474.0,30.3 476.1,30.6 478.1,30.8 480.2,31.0" fill="none" stroke="#3173B8" stroke-width="1.28" stroke-linejoin="round" stroke-dasharray="2,1.1"/><path d="M297.4,142.8L299.5,142.9 301.6,142.9 303.6,142.9 305.7,142.9 307.8,142.9 309.9,142.9 311.9,142.9 314.0,142.9 316.1,142.8 318.2,142.8 320.3,142.7 322.3,142.7 324.4,142.6 326.5,142.6 328.6,142.5 330.6,142.5 332.7,142.4 334.8,142.2 336.9,142.0 338.9,141.7 341.0,141.4 343.1,141.1 345.2,140.8 347.3,140.4 349.3,139.5 351.4,138.3 353.5,136.8 355.6,135.3 357.6,133.1 359.7,129.7 361.8,125.4 363.9,120.8 366.0,114.7 368.0,107.4 370.1,99.2 372.2,90.0 374.3,80.9 376.3,72.5 378.4,64.5 380.5,57.5 382.6,51.2 384.7,46.0 386.7,41.7 388.8,37.8 390.9,34.5 393.0,31.7 395.0,28.9 397.1,26.4 399.2,24.5 401.3,23.4 403.4,22.6 405.4,21.8 407.5,21.2 409.6,20.8 411.7,20.8 413.7,21.2 415.8,21.7 417.9,22.4 420.0,23.3 422.0,24.5 424.1,25.8 426.2,27.1 428.3,27.8 430.4,28.3 432.4,28.7 434.5,29.0 436.6,29.3 438.7,29.7 440.7,30.1 442.8,30.5 444.9,30.9 447.0,31.3 449.1,31.6 451.1,31.8 453.2,32.0 455.3,32.3 457.4,32.4 459.4,32.6 461.5,32.8 463.6,32.9 465.7,33.0 467.8,33.1 469.8,33.2 471.9,33.3 474.0,33.4 476.1,33.4 478.1,33.5 480.2,33.5" fill="none" stroke="#3173B8" stroke-width="1.28" stroke-linejoin="round" stroke-dasharray="2,1.1"/><path d="M297.4,142.8L299.5,142.9 301.6,142.9 303.6,143.0 305.7,143.0 307.8,143.0 309.9,143.1 311.9,143.1 314.0,143.1 316.1,143.1 318.2,143.1 320.3,143.1 322.3,143.1 324.4,143.1 326.5,143.1 328.6,143.1 330.6,143.1 332.7,143.1 334.8,143.1 336.9,143.1 338.9,143.1 341.0,143.0 343.1,143.0 345.2,143.0 347.3,143.0 349.3,142.9 351.4,142.9 353.5,142.9 355.6,142.8 357.6,142.8 359.7,142.8 361.8,142.7 363.9,142.7 366.0,142.6 368.0,142.6 370.1,142.6 372.2,142.5 374.3,142.5 376.3,142.5 378.4,142.4 380.5,142.3 382.6,142.1 384.7,141.9 386.7,141.7 388.8,141.5 390.9,141.3 393.0,141.0 395.0,140.7 397.1,140.0 399.2,139.1 401.3,137.9 403.4,136.7 405.4,135.1 407.5,132.7 409.6,129.5 411.7,126.1 413.7,122.3 415.8,117.4 417.9,111.4 420.0,103.6 422.0,93.9 424.1,85.0 426.2,76.7 428.3,69.0 430.4,62.0 432.4,56.3 434.5,51.3 436.6,46.9 438.7,43.6 440.7,40.5 442.8,37.7 444.9,35.2 447.0,33.2 449.1,32.0 451.1,31.1 453.2,30.2 455.3,29.6 457.4,29.2 459.4,29.0 461.5,28.9 463.6,28.8 465.7,28.8 467.8,28.8 469.8,28.8 471.9,28.9 474.0,29.1 476.1,29.2 478.1,29.5 480.2,29.8" fill="none" stroke="#3173B8" stroke-width="1.28" stroke-linejoin="round" stroke-dasharray="2,1.1"/><path d="M297.4,142.8L299.5,142.9 301.6,143.0 303.6,143.1 305.7,143.2 307.8,143.2 309.9,143.3 311.9,143.4 314.0,143.4 316.1,143.5 318.2,143.5 320.3,143.5 322.3,143.6 324.4,143.6 326.5,143.6 328.6,143.6 330.6,143.6 332.7,143.6 334.8,143.6 336.9,143.6 338.9,143.6 341.0,143.6 343.1,143.6 345.2,143.6 347.3,143.5 349.3,143.5 351.4,143.5 353.5,143.4 355.6,143.4 357.6,143.4 359.7,143.3 361.8,143.3 363.9,143.2 366.0,143.2 368.0,143.1 370.1,143.1 372.2,143.0 374.3,143.0 376.3,142.9 378.4,142.9 380.5,142.8 382.6,142.7 384.7,142.7 386.7,142.6 388.8,142.6 390.9,142.5 393.0,142.5 395.0,142.4 397.1,142.2 399.2,142.0 401.3,141.8 403.4,141.5 405.4,141.1 407.5,140.8 409.6,140.4 411.7,140.0 413.7,139.6 415.8,139.2 417.9,138.8 420.0,137.9 422.0,136.4 424.1,134.5 426.2,132.4 428.3,129.8 430.4,125.9 432.4,121.0 434.5,115.5 436.6,108.5 438.7,100.8 440.7,93.5 442.8,86.2 444.9,79.1 447.0,72.9 449.1,67.8 451.1,63.4 453.2,60.0 455.3,57.3 457.4,54.9 459.4,53.2 461.5,52.0 463.6,50.9 465.7,49.9 467.8,49.3 469.8,48.9 471.9,48.5 474.0,48.3 476.1,48.1 478.1,48.0 480.2,48.1" fill="none" stroke="#3173B8" stroke-width="1.28" stroke-linejoin="round" stroke-dasharray="2,1.1"/><path d="M297.4,142.8L299.5,142.9 301.6,142.9 303.6,143.0 305.7,143.1 307.8,143.1 309.9,143.2 311.9,143.2 314.0,143.3 316.1,143.3 318.2,143.3 320.3,143.4 322.3,143.4 324.4,143.4 326.5,143.5 328.6,143.5 330.6,143.5 332.7,143.5 334.8,143.5 336.9,143.6 338.9,143.6 341.0,143.6 343.1,143.6 345.2,143.6 347.3,143.6 349.3,143.6 351.4,143.6 353.5,143.5 355.6,143.5 357.6,143.5 359.7,143.5 361.8,143.5 363.9,143.5 366.0,143.4 368.0,143.4 370.1,143.4 372.2,143.3 374.3,143.3 376.3,143.3 378.4,143.2 380.5,143.2 382.6,143.2 384.7,143.1 386.7,143.1 388.8,143.0 390.9,143.0 393.0,142.9 395.0,142.9 397.1,142.8 399.2,142.8 401.3,142.7 403.4,142.6 405.4,142.6 407.5,142.5 409.6,142.5 411.7,142.4 413.7,142.2 415.8,142.0 417.9,141.8 420.0,141.5 422.0,141.3 424.1,141.0 426.2,140.7 428.3,140.4 430.4,140.0 432.4,139.4 434.5,138.7 436.6,138.0 438.7,137.2 440.7,135.8 442.8,133.4 444.9,130.1 447.0,126.5 449.1,122.0 451.1,116.5 453.2,110.7 455.3,104.4 457.4,98.5 459.4,93.3 461.5,88.6 463.6,85.3 465.7,83.0 467.8,81.2 469.8,80.1 471.9,78.9 474.0,77.9 476.1,76.9 478.1,76.2 480.2,75.8" fill="none" stroke="#3173B8" stroke-width="1.28" stroke-linejoin="round" stroke-dasharray="2,1.1"/><path d="M297.4,142.8L299.5,142.9 301.6,142.9 303.6,143.0 305.7,143.0 307.8,143.1 309.9,143.1 311.9,143.1 314.0,143.2 316.1,143.2 318.2,143.2 320.3,143.3 322.3,143.3 324.4,143.3 326.5,143.3 328.6,143.4 330.6,143.4 332.7,143.4 334.8,143.4 336.9,143.4 338.9,143.4 341.0,143.4 343.1,143.4 345.2,143.4 347.3,143.4 349.3,143.4 351.4,143.4 353.5,143.4 355.6,143.4 357.6,143.4 359.7,143.4 361.8,143.4 363.9,143.4 366.0,143.3 368.0,143.3 370.1,143.3 372.2,143.3 374.3,143.3 376.3,143.2 378.4,143.2 380.5,143.2 382.6,143.1 384.7,143.1 386.7,143.1 388.8,143.0 390.9,143.0 393.0,143.0 395.0,142.9 397.1,142.9 399.2,142.9 401.3,142.8 403.4,142.8 405.4,142.7 407.5,142.7 409.6,142.6 411.7,142.6 413.7,142.6 415.8,142.5 417.9,142.5 420.0,142.4 422.0,142.3 424.1,142.2 426.2,142.0 428.3,141.8 430.4,141.6 432.4,141.4 434.5,141.2 436.6,141.0 438.7,140.7 440.7,140.5 442.8,140.1 444.9,139.6 447.0,139.1 449.1,138.5 451.1,137.8 453.2,137.0 455.3,135.7 457.4,134.1 459.4,132.5 461.5,131.3 463.6,130.5 465.7,129.8 467.8,129.2 469.8,128.7 471.9,128.4 474.0,128.2 476.1,128.0 478.1,127.9 480.2,127.9" fill="none" stroke="#4F94D4" stroke-width="1.28" stroke-linejoin="round" stroke-dasharray="2,1.1"/><path d="M487.8,10.4H493.3" stroke="#303030" stroke-width="1.3"/><text x="494.50" y="11.85" font-size="6.00" fill="#303030" font-style="italic" stroke="#303030" stroke-width="0.05" textLength="30.50" lengthAdjust="spacingAndGlyphs">Escherichia coli</text><path d="M487.8,21.0H493.3" stroke="#F08535" stroke-width="1.3"/><text x="494.50" y="22.45" font-size="6.00" fill="#303030" font-style="italic" stroke="#303030" stroke-width="0.05" textLength="50.20" lengthAdjust="spacingAndGlyphs">Salmonella Typhimurium</text><path d="M487.8,31.6H493.3" stroke="#FF0000" stroke-width="1.3"/><text x="494.50" y="33.05" font-size="6.00" fill="#303030" font-style="italic" stroke="#303030" stroke-width="0.05" textLength="42.20" lengthAdjust="spacingAndGlyphs">Clostridium septicum</text><path d="M487.8,42.3H493.3" stroke="#00B050" stroke-width="1.3"/><text x="494.50" y="43.75" font-size="6.00" fill="#303030" font-style="italic" stroke="#303030" stroke-width="0.05" textLength="37.10" lengthAdjust="spacingAndGlyphs">Lactobacillus sakei</text><path d="M487.8,53.2H493.3" stroke="#C0504D" stroke-width="1.3"/><text x="494.50" y="54.65" font-size="6.00" fill="#303030" font-style="italic" stroke="#303030" stroke-width="0.05" textLength="40.30" lengthAdjust="spacingAndGlyphs">Enterococcus avium</text><path d="M487.8,64.0H493.3" stroke="#A95EE8" stroke-width="1.3"/><text x="494.50" y="65.45" font-size="6.00" fill="#303030" font-style="italic" stroke="#303030" stroke-width="0.05" textLength="49.50" lengthAdjust="spacingAndGlyphs">Bacteroidetes bacterium</text><path d="M487.8,74.4H493.3" stroke="#FFFF00" stroke-width="1.3"/><text x="494.50" y="75.85" font-size="6.00" fill="#303030" font-style="italic" stroke="#303030" stroke-width="0.05" textLength="8.30" lengthAdjust="spacingAndGlyphs">NTC</text><path d="M488.2,86.1H493.7" stroke="#3173B8" stroke-width="1.3" stroke-dasharray="2,1.1"/><text x="496.20" y="87.55" font-size="5.60" fill="#303030" stroke="#303030" stroke-width="0.05" textLength="22.56" lengthAdjust="spacingAndGlyphs">6,240,000</text><path d="M488.2,97.0H493.7" stroke="#3173B8" stroke-width="1.3" stroke-dasharray="2,1.1"/><text x="496.20" y="98.45" font-size="5.60" fill="#303030" stroke="#303030" stroke-width="0.05" textLength="18.14" lengthAdjust="spacingAndGlyphs">624,000</text><path d="M488.2,107.8H493.7" stroke="#3173B8" stroke-width="1.3" stroke-dasharray="2,1.1"/><text x="496.20" y="109.25" font-size="5.60" fill="#303030" stroke="#303030" stroke-width="0.05" textLength="15.36" lengthAdjust="spacingAndGlyphs">62,400</text><path d="M488.2,118.7H493.7" stroke="#3173B8" stroke-width="1.3" stroke-dasharray="2,1.1"/><text x="496.20" y="120.15" font-size="5.60" fill="#303030" stroke="#303030" stroke-width="0.05" textLength="11.14" lengthAdjust="spacingAndGlyphs">6240</text><path d="M488.2,129.7H493.7" stroke="#3173B8" stroke-width="1.3" stroke-dasharray="2,1.1"/><text x="496.20" y="131.15" font-size="5.60" fill="#303030" stroke="#303030" stroke-width="0.05" textLength="8.83" lengthAdjust="spacingAndGlyphs">624</text><path d="M488.2,140.4H493.7" stroke="#3173B8" stroke-width="1.3" stroke-dasharray="2,1.1"/><text x="496.20" y="141.85" font-size="5.60" fill="#303030" stroke="#303030" stroke-width="0.05" textLength="9.79" lengthAdjust="spacingAndGlyphs">62.4</text><path d="M488.2,151.2H493.7" stroke="#4F94D4" stroke-width="1.3" stroke-dasharray="2,1.1"/><text x="496.20" y="152.65" font-size="5.60" fill="#303030" stroke="#303030" stroke-width="0.05" textLength="9.79" lengthAdjust="spacingAndGlyphs">6.24</text><rect x="522.00" y="81.50" width="19.90" height="74.40" fill="#D6E3F0"/><text x="534.80" y="119.40" font-size="6.40" fill="#1a1a1a" font-style="italic" text-anchor="middle" transform="rotate(-90 534.80 119.40)" textLength="41.30" lengthAdjust="spacingAndGlyphs">mcrA+ plasmid</text><path d="M13.3,197.3V335.2H219.3" fill="none" stroke="#D9D9D9" stroke-width="0.8"/><path d="M11.7,335.2H13.3" stroke="#D9D9D9" stroke-width="0.6"/><text x="7.70" y="336.85" font-size="4.60" fill="#3a3a3a" text-anchor="middle">0</text><path d="M11.7,266.2H13.3" stroke="#D9D9D9" stroke-width="0.6"/><text x="7.70" y="267.90" font-size="4.60" fill="#3a3a3a" text-anchor="middle">1</text><path d="M11.7,197.3H13.3" stroke="#D9D9D9" stroke-width="0.6"/><text x="7.70" y="198.95" font-size="4.60" fill="#3a3a3a" text-anchor="middle">2</text><text x="15.70" y="341.20" font-size="4.60" fill="#3a3a3a" text-anchor="middle" transform="rotate(-90 15.70 341.20)">65</text><text x="22.54" y="341.20" font-size="4.60" fill="#3a3a3a" text-anchor="middle" transform="rotate(-90 22.54 341.20)">66</text><text x="29.38" y="341.20" font-size="4.60" fill="#3a3a3a" text-anchor="middle" transform="rotate(-90 29.38 341.20)">67</text><text x="36.22" y="341.20" font-size="4.60" fill="#3a3a3a" text-anchor="middle" transform="rotate(-90 36.22 341.20)">68</text><text x="43.06" y="341.20" font-size="4.60" fill="#3a3a3a" text-anchor="middle" transform="rotate(-90 43.06 341.20)">69</text><text x="49.90" y="341.20" font-size="4.60" fill="#3a3a3a" text-anchor="middle" transform="rotate(-90 49.90 341.20)">70</text><text x="56.74" y="341.20" font-size="4.60" fill="#3a3a3a" text-anchor="middle" transform="rotate(-90 56.74 341.20)">71</text><text x="63.58" y="341.20" font-size="4.60" fill="#3a3a3a" text-anchor="middle" transform="rotate(-90 63.58 341.20)">72</text><text x="70.42" y="341.20" font-size="4.60" fill="#3a3a3a" text-anchor="middle" transform="rotate(-90 70.42 341.20)">73</text><text x="77.26" y="341.20" font-size="4.60" fill="#3a3a3a" text-anchor="middle" transform="rotate(-90 77.26 341.20)">74</text><text x="84.10" y="341.20" font-size="4.60" fill="#3a3a3a" text-anchor="middle" transform="rotate(-90 84.10 341.20)">75</text><text x="90.94" y="341.20" font-size="4.60" fill="#3a3a3a" text-anchor="middle" transform="rotate(-90 90.94 341.20)">76</text><text x="97.78" y="341.20" font-size="4.60" fill="#3a3a3a" text-anchor="middle" transform="rotate(-90 97.78 341.20)">77</text><text x="104.62" y="341.20" font-size="4.60" fill="#3a3a3a" text-anchor="middle" transform="rotate(-90 104.62 341.20)">78</text><text x="111.46" y="341.20" font-size="4.60" fill="#3a3a3a" text-anchor="middle" transform="rotate(-90 111.46 341.20)">79</text><text x="118.30" y="341.20" font-size="4.60" fill="#3a3a3a" text-anchor="middle" transform="rotate(-90 118.30 341.20)">80</text><text x="125.14" y="341.20" font-size="4.60" fill="#3a3a3a" text-anchor="middle" transform="rotate(-90 125.14 341.20)">81</text><text x="131.98" y="341.20" font-size="4.60" fill="#3a3a3a" text-anchor="middle" transform="rotate(-90 131.98 341.20)">82</text><text x="138.82" y="341.20" font-size="4.60" fill="#3a3a3a" text-anchor="middle" transform="rotate(-90 138.82 341.20)">83</text><text x="145.66" y="341.20" font-size="4.60" fill="#3a3a3a" text-anchor="middle" transform="rotate(-90 145.66 341.20)">84</text><text x="152.50" y="341.20" font-size="4.60" fill="#3a3a3a" text-anchor="middle" transform="rotate(-90 152.50 341.20)">85</text><text x="159.34" y="341.20" font-size="4.60" fill="#3a3a3a" text-anchor="middle" transform="rotate(-90 159.34 341.20)">86</text><text x="166.18" y="341.20" font-size="4.60" fill="#3a3a3a" text-anchor="middle" transform="rotate(-90 166.18 341.20)">87</text><text x="173.02" y="341.20" font-size="4.60" fill="#3a3a3a" text-anchor="middle" transform="rotate(-90 173.02 341.20)">88</text><text x="179.86" y="341.20" font-size="4.60" fill="#3a3a3a" text-anchor="middle" transform="rotate(-90 179.86 341.20)">89</text><text x="186.70" y="341.20" font-size="4.60" fill="#3a3a3a" text-anchor="middle" transform="rotate(-90 186.70 341.20)">90</text><text x="193.54" y="341.20" font-size="4.60" fill="#3a3a3a" text-anchor="middle" transform="rotate(-90 193.54 341.20)">91</text><text x="200.38" y="341.20" font-size="4.60" fill="#3a3a3a" text-anchor="middle" transform="rotate(-90 200.38 341.20)">92</text><text x="207.22" y="341.20" font-size="4.60" fill="#3a3a3a" text-anchor="middle" transform="rotate(-90 207.22 341.20)">93</text><text x="214.06" y="341.20" font-size="4.60" fill="#3a3a3a" text-anchor="middle" transform="rotate(-90 214.06 341.20)">94</text><text x="118.30" y="351.70" font-size="6.40" fill="#333333" text-anchor="middle" textLength="30.50" lengthAdjust="spacingAndGlyphs">Temperature</text><text x="9.80" y="245.60" font-size="6.40" fill="#333333" text-anchor="middle" transform="rotate(-90 9.80 245.60)" textLength="26.80" lengthAdjust="spacingAndGlyphs">-d(RFU)/dT</text><text x="138.10" y="207.70" font-size="10.30" fill="#000" font-weight="bold" text-anchor="middle" textLength="57.30" lengthAdjust="spacingAndGlyphs">mlas/mcrA-rev</text><path d="M13.9,325.9L15.4,325.7 16.9,325.6 18.4,325.4 19.9,325.2 21.4,325.0 22.9,324.8 24.4,324.6 25.9,324.5 27.4,324.3 28.9,324.1 30.4,323.8 31.9,323.6 33.4,323.4 34.9,323.1 36.4,322.8 37.9,322.6 39.4,322.3 40.9,322.0 42.4,321.8 43.9,321.6 45.4,321.4 46.9,321.2 48.4,321.1 49.9,321.0 51.4,320.9 52.9,320.8 54.4,320.8 55.9,320.7 57.4,320.7 58.9,320.6 60.4,320.6 61.9,320.5 63.4,320.5 64.9,320.5 66.4,320.5 67.9,320.5 69.4,320.5 70.9,320.6 72.4,320.6 73.9,320.7 75.4,320.7 76.9,320.8 78.4,320.9 79.9,320.9 81.4,321.0 82.9,321.0 84.4,321.1 85.9,321.1 87.4,321.1 88.9,321.1 90.4,321.0 91.9,320.9 93.4,320.8 94.9,320.6 96.4,320.5 97.9,320.3 99.4,320.1 100.9,320.0 102.4,319.8 103.9,319.6 105.4,319.3 106.9,319.1 108.4,318.9 109.9,318.6 111.4,318.4 112.9,318.2 114.4,318.0 115.9,317.8 117.4,317.6 118.9,317.4 120.4,317.2 121.9,317.1 123.4,316.9 124.9,316.7 126.4,316.6 127.9,316.4 129.4,316.3 130.9,316.1 132.4,315.9 133.9,315.8 135.4,315.6 136.9,315.5 138.4,315.4 139.9,315.2 141.4,315.1 142.9,314.7 144.4,314.0 145.9,312.9 147.4,311.5 148.9,309.8 150.4,308.0 151.9,306.1 153.4,304.0 154.9,301.4 156.4,298.3 157.9,295.1 159.4,291.7 160.9,288.5 162.4,285.7 163.9,282.6 165.4,279.5 166.9,276.7 168.4,274.5 169.9,273.3 171.4,273.9 172.9,276.3 174.4,279.9 175.9,283.8 177.4,287.6 178.9,292.0 180.4,296.6 181.9,301.2 183.4,306.2 184.9,311.0 186.4,315.0 187.9,318.3 189.4,321.0 190.9,323.4 192.4,325.7 193.9,327.5 195.4,328.8 196.9,329.7 198.4,330.4 199.9,330.8 201.4,330.9 202.9,330.9 204.4,331.0 205.9,331.0 207.4,331.0 208.9,330.9 210.4,330.9 211.9,330.8 213.4,330.8 214.9,330.7 216.4,330.7 217.9,330.6 219.4,330.5" fill="none" stroke="#303030" stroke-width="1.20" stroke-linejoin="round"/><path d="M13.9,320.5L15.4,319.8 16.9,319.1 18.4,318.4 19.9,317.7 21.4,317.0 22.9,316.3 24.4,315.6 25.9,315.0 27.4,314.3 28.9,313.7 30.4,313.0 31.9,312.4 33.4,311.7 34.9,311.1 36.4,310.4 37.9,309.8 39.4,309.2 40.9,308.7 42.4,308.2 43.9,307.7 45.4,307.3 46.9,307.0 48.4,306.6 49.9,306.3 51.4,306.0 52.9,305.8 54.4,305.5 55.9,305.3 57.4,305.2 58.9,305.1 60.4,305.0 61.9,305.0 63.4,305.1 64.9,305.3 66.4,305.6 67.9,306.0 69.4,306.3 70.9,306.8 72.4,307.4 73.9,308.2 75.4,309.0 76.9,310.0 78.4,311.0 79.9,311.9 81.4,313.0 82.9,314.1 84.4,315.2 85.9,316.3 87.4,317.2 88.9,317.9 90.4,318.5 91.9,319.2 93.4,319.8 94.9,320.3 96.4,320.9 97.9,321.5 99.4,322.1 100.9,322.7 102.4,323.4 103.9,324.2 105.4,325.0 106.9,325.7 108.4,326.3 109.9,326.7 111.4,326.8 112.9,326.5 114.4,325.8 115.9,325.0 117.4,324.4 118.9,323.9 120.4,323.5 121.9,323.2 123.4,322.8 124.9,322.5 126.4,322.3 127.9,322.3 129.4,322.3 130.9,322.6 132.4,322.9 133.9,323.4 135.4,324.0 136.9,324.6 138.4,325.3 139.9,325.9 141.4,326.5 142.9,327.2 144.4,327.9 145.9,328.7 147.4,329.5 148.9,330.2 150.4,330.9 151.9,331.5 153.4,332.0 154.9,332.4 156.4,332.7 157.9,332.9 159.4,333.2 160.9,333.4 162.4,333.6 163.9,333.8 165.4,333.9 166.9,334.0 168.4,334.1 169.9,334.2 171.4,334.2 172.9,334.3 174.4,334.3 175.9,334.4 177.4,334.4 178.9,334.5 180.4,334.5 181.9,334.5 183.4,334.6 184.9,334.6 186.4,334.7 187.9,334.7 189.4,334.7 190.9,334.7 192.4,334.8 193.9,334.8 195.4,334.8 196.9,334.8 198.4,334.8 199.9,334.8 201.4,334.8 202.9,334.8 204.4,334.8 205.9,334.8 207.4,334.8 208.9,334.8 210.4,334.8 211.9,334.7 213.4,334.7 214.9,334.7 216.4,334.6 217.9,334.6 219.4,334.5" fill="none" stroke="#F08535" stroke-width="1.20" stroke-linejoin="round"/><path d="M13.9,319.1L15.4,318.4 16.9,317.7 18.4,317.1 19.9,316.4 21.4,315.7 22.9,315.1 24.4,314.4 25.9,313.8 27.4,313.2 28.9,312.6 30.4,311.9 31.9,311.3 33.4,310.7 34.9,310.1 36.4,309.4 37.9,308.8 39.4,308.3 40.9,307.7 42.4,307.2 43.9,306.8 45.4,306.4 46.9,306.1 48.4,305.8 49.9,305.5 51.4,305.2 52.9,304.9 54.4,304.7 55.9,304.5 57.4,304.4 58.9,304.3 60.4,304.3 61.9,304.4 63.4,304.6 64.9,304.9 66.4,305.2 67.9,305.6 69.4,306.2 70.9,306.9 72.4,307.8 73.9,308.7 75.4,309.7 76.9,310.5 78.4,311.1 79.9,311.5 81.4,311.8 82.9,312.1 84.4,312.3 85.9,312.5 87.4,312.7 88.9,312.8 90.4,313.0 91.9,313.1 93.4,313.3 94.9,313.4 96.4,313.6 97.9,313.8 99.4,314.0 100.9,314.2 102.4,314.5 103.9,314.7 105.4,315.0 106.9,315.3 108.4,315.6 109.9,316.0 111.4,316.4 112.9,316.9 114.4,317.6 115.9,318.6 117.4,319.8 118.9,321.1 120.4,322.5 121.9,323.8 123.4,324.9 124.9,325.9 126.4,326.9 127.9,328.0 129.4,329.0 130.9,330.0 132.4,330.8 133.9,331.5 135.4,332.1 136.9,332.4 138.4,332.6 139.9,332.9 141.4,333.1 142.9,333.3 144.4,333.5 145.9,333.7 147.4,333.8 148.9,334.0 150.4,334.1 151.9,334.1 153.4,334.2 154.9,334.2 156.4,334.3 157.9,334.3 159.4,334.3 160.9,334.3 162.4,334.4 163.9,334.4 165.4,334.4 166.9,334.5 168.4,334.5 169.9,334.5 171.4,334.6 172.9,334.6 174.4,334.6 175.9,334.7 177.4,334.7 178.9,334.7 180.4,334.7 181.9,334.8 183.4,334.8 184.9,334.8 186.4,334.8 187.9,334.8 189.4,334.8 190.9,334.8 192.4,334.9 193.9,334.9 195.4,334.9 196.9,334.9 198.4,334.9 199.9,334.9 201.4,334.9 202.9,334.8 204.4,334.8 205.9,334.8 207.4,334.8 208.9,334.8 210.4,334.7 211.9,334.7 213.4,334.7 214.9,334.6 216.4,334.6 217.9,334.6 219.4,334.5" fill="none" stroke="#FF0000" stroke-width="1.20" stroke-linejoin="round"/><path d="M13.9,320.5L15.4,320.1 16.9,319.8 18.4,319.4 19.9,319.1 21.4,318.8 22.9,318.4 24.4,318.1 25.9,317.8 27.4,317.5 28.9,317.3 30.4,317.0 31.9,316.7 33.4,316.5 34.9,316.2 36.4,316.0 37.9,315.7 39.4,315.5 40.9,315.2 42.4,315.0 43.9,314.8 45.4,314.6 46.9,314.5 48.4,314.3 49.9,314.2 51.4,314.0 52.9,313.9 54.4,313.8 55.9,313.7 57.4,313.6 58.9,313.5 60.4,313.4 61.9,313.4 63.4,313.4 64.9,313.4 66.4,313.4 67.9,313.5 69.4,313.6 70.9,313.8 72.4,314.0 73.9,314.2 75.4,314.4 76.9,314.6 78.4,314.8 79.9,315.0 81.4,315.2 82.9,315.3 84.4,315.3 85.9,315.4 87.4,315.3 88.9,315.3 90.4,315.2 91.9,315.1 93.4,314.9 94.9,314.7 96.4,314.6 97.9,314.4 99.4,314.2 100.9,314.0 102.4,313.6 103.9,313.2 105.4,312.7 106.9,312.1 108.4,311.5 109.9,310.9 111.4,310.3 112.9,309.7 114.4,309.2 115.9,308.8 117.4,308.4 118.9,308.2 120.4,308.4 121.9,308.7 123.4,309.3 124.9,310.1 126.4,310.9 127.9,311.8 129.4,312.9 130.9,314.3 132.4,315.9 133.9,317.6 135.4,319.2 136.9,320.8 138.4,322.1 139.9,323.1 141.4,324.0 142.9,324.7 144.4,325.4 145.9,326.1 147.4,326.7 148.9,327.3 150.4,327.7 151.9,328.1 153.4,328.4 154.9,328.6 156.4,328.7 157.9,328.7 159.4,328.6 160.9,328.5 162.4,328.4 163.9,328.3 165.4,328.3 166.9,328.5 168.4,328.9 169.9,329.5 171.4,330.2 172.9,330.9 174.4,331.6 175.9,332.1 177.4,332.4 178.9,332.8 180.4,333.1 181.9,333.3 183.4,333.5 184.9,333.7 186.4,333.8 187.9,333.8 189.4,333.9 190.9,334.0 192.4,334.1 193.9,334.2 195.4,334.2 196.9,334.3 198.4,334.4 199.9,334.4 201.4,334.5 202.9,334.5 204.4,334.6 205.9,334.6 207.4,334.6 208.9,334.6 210.4,334.6 211.9,334.6 213.4,334.6 214.9,334.6 216.4,334.6 217.9,334.5 219.4,334.5" fill="none" stroke="#00B050" stroke-width="1.20" stroke-linejoin="round"/><path d="M13.9,327.4L15.4,327.2 16.9,327.0 18.4,326.7 19.9,326.4 21.4,326.0 22.9,325.7 24.4,325.3 25.9,324.9 27.4,324.5 28.9,324.1 30.4,323.7 31.9,323.2 33.4,322.7 34.9,322.1 36.4,321.6 37.9,321.0 39.4,320.4 40.9,319.8 42.4,319.2 43.9,318.6 45.4,318.1 46.9,317.6 48.4,317.2 49.9,316.8 51.4,316.4 52.9,316.0 54.4,315.7 55.9,315.3 57.4,315.0 58.9,314.7 60.4,314.5 61.9,314.4 63.4,314.3 64.9,314.3 66.4,314.3 67.9,314.4 69.4,314.5 70.9,314.7 72.4,314.8 73.9,314.9 75.4,315.1 76.9,315.3 78.4,315.4 79.9,315.6 81.4,315.8 82.9,316.1 84.4,316.3 85.9,316.6 87.4,316.9 88.9,317.1 90.4,317.4 91.9,317.6 93.4,317.9 94.9,318.1 96.4,318.3 97.9,318.4 99.4,318.5 100.9,318.5 102.4,318.4 103.9,318.1 105.4,317.7 106.9,317.3 108.4,316.7 109.9,316.1 111.4,315.4 112.9,314.7 114.4,314.0 115.9,313.3 117.4,312.6 118.9,312.0 120.4,311.3 121.9,310.6 123.4,309.8 124.9,309.0 126.4,308.2 127.9,307.4 129.4,306.6 130.9,305.9 132.4,305.1 133.9,304.4 135.4,303.7 136.9,303.1 138.4,302.4 139.9,301.8 141.4,301.3 142.9,301.0 144.4,301.0 145.9,301.7 147.4,302.8 148.9,304.3 150.4,305.9 151.9,308.1 153.4,311.3 154.9,315.0 156.4,318.7 157.9,321.8 159.4,324.6 160.9,327.5 162.4,330.2 163.9,332.4 165.4,333.6 166.9,333.9 168.4,334.0 169.9,334.2 171.4,334.3 172.9,334.4 174.4,334.4 175.9,334.5 177.4,334.6 178.9,334.6 180.4,334.6 181.9,334.6 183.4,334.6 184.9,334.6 186.4,334.7 187.9,334.7 189.4,334.7 190.9,334.7 192.4,334.7 193.9,334.7 195.4,334.8 196.9,334.8 198.4,334.8 199.9,334.8 201.4,334.8 202.9,334.8 204.4,334.8 205.9,334.9 207.4,334.9 208.9,334.9 210.4,334.9 211.9,334.9 213.4,334.9 214.9,334.9 216.4,334.8 217.9,334.8 219.4,334.8" fill="none" stroke="#C0504D" stroke-width="1.20" stroke-linejoin="round"/><path d="M13.9,318.2L15.4,317.5 16.9,316.9 18.4,316.2 19.9,315.5 21.4,314.9 22.9,314.2 24.4,313.6 25.9,312.9 27.4,312.2 28.9,311.6 30.4,310.9 31.9,310.2 33.4,309.5 34.9,308.8 36.4,308.2 37.9,307.5 39.4,306.8 40.9,306.2 42.4,305.6 43.9,305.0 45.4,304.5 46.9,303.9 48.4,303.4 49.9,303.0 51.4,302.5 52.9,302.1 54.4,301.6 55.9,301.3 57.4,300.9 58.9,300.6 60.4,300.4 61.9,300.2 63.4,300.0 64.9,299.9 66.4,299.9 67.9,300.0 69.4,300.3 70.9,300.8 72.4,301.3 73.9,302.0 75.4,302.7 76.9,303.4 78.4,304.2 79.9,305.0 81.4,305.8 82.9,306.9 84.4,308.0 85.9,309.2 87.4,310.4 88.9,311.7 90.4,313.0 91.9,314.3 93.4,315.7 94.9,317.2 96.4,318.8 97.9,320.3 99.4,321.7 100.9,323.0 102.4,324.4 103.9,325.7 105.4,327.0 106.9,328.2 108.4,329.3 109.9,330.1 111.4,330.7 112.9,331.1 114.4,331.6 115.9,332.0 117.4,332.4 118.9,332.7 120.4,333.0 121.9,333.2 123.4,333.4 124.9,333.5 126.4,333.6 127.9,333.6 129.4,333.7 130.9,333.7 132.4,333.8 133.9,333.9 135.4,333.9 136.9,334.0 138.4,334.0 139.9,334.1 141.4,334.1 142.9,334.2 144.4,334.2 145.9,334.2 147.4,334.3 148.9,334.3 150.4,334.3 151.9,334.3 153.4,334.3 154.9,334.3 156.4,334.3 157.9,334.4 159.4,334.4 160.9,334.4 162.4,334.4 163.9,334.4 165.4,334.4 166.9,334.4 168.4,334.5 169.9,334.5 171.4,334.5 172.9,334.5 174.4,334.5 175.9,334.5 177.4,334.5 178.9,334.5 180.4,334.5 181.9,334.6 183.4,334.6 184.9,334.6 186.4,334.6 187.9,334.6 189.4,334.6 190.9,334.6 192.4,334.6 193.9,334.6 195.4,334.6 196.9,334.6 198.4,334.6 199.9,334.6 201.4,334.6 202.9,334.6 204.4,334.6 205.9,334.6 207.4,334.6 208.9,334.6 210.4,334.6 211.9,334.6 213.4,334.6 214.9,334.6 216.4,334.6 217.9,334.6 219.4,334.6" fill="none" stroke="#A95EE8" stroke-width="1.20" stroke-linejoin="round"/><path d="M13.9,322.0L15.4,321.2 16.9,320.3 18.4,319.5 19.9,318.7 21.4,318.0 22.9,317.2 24.4,316.5 25.9,315.8 27.4,315.1 28.9,314.5 30.4,313.9 31.9,313.3 33.4,312.7 34.9,312.1 36.4,311.5 37.9,311.0 39.4,310.4 40.9,309.9 42.4,309.4 43.9,308.9 45.4,308.5 46.9,308.0 48.4,307.6 49.9,307.2 51.4,306.9 52.9,306.5 54.4,306.2 55.9,305.9 57.4,305.7 58.9,305.6 60.4,305.5 61.9,305.6 63.4,305.8 64.9,306.2 66.4,306.8 67.9,307.5 69.4,308.3 70.9,309.1 72.4,309.9 73.9,310.7 75.4,311.4 76.9,312.2 78.4,313.1 79.9,313.9 81.4,314.8 82.9,315.7 84.4,316.6 85.9,317.5 87.4,318.4 88.9,319.3 90.4,320.2 91.9,321.1 93.4,322.0 94.9,322.9 96.4,323.8 97.9,324.7 99.4,325.6 100.9,326.4 102.4,327.3 103.9,328.2 105.4,329.2 106.9,330.1 108.4,330.9 109.9,331.7 111.4,332.3 112.9,332.8 114.4,333.2 115.9,333.4 117.4,333.6 118.9,333.8 120.4,333.9 121.9,334.1 123.4,334.2 124.9,334.3 126.4,334.4 127.9,334.4 129.4,334.5 130.9,334.5 132.4,334.5 133.9,334.6 135.4,334.6 136.9,334.6 138.4,334.6 139.9,334.7 141.4,334.7 142.9,334.7 144.4,334.7 145.9,334.7 147.4,334.8 148.9,334.8 150.4,334.8 151.9,334.8 153.4,334.9 154.9,334.9 156.4,334.9 157.9,334.9 159.4,335.0 160.9,335.0 162.4,335.0 163.9,335.0 165.4,335.0 166.9,335.0 168.4,335.1 169.9,335.1 171.4,335.1 172.9,335.1 174.4,335.1 175.9,335.1 177.4,335.1 178.9,335.2 180.4,335.2 181.9,335.2 183.4,335.2 184.9,335.2 186.4,335.2 187.9,335.2 189.4,335.2 190.9,335.2 192.4,335.2 193.9,335.2 195.4,335.2 196.9,335.2 198.4,335.2 199.9,335.1 201.4,335.1 202.9,335.1 204.4,335.1 205.9,335.1 207.4,335.1 208.9,335.0 210.4,335.0 211.9,335.0 213.4,334.9 214.9,334.9 216.4,334.9 217.9,334.8 219.4,334.8" fill="none" stroke="#FFFF00" stroke-width="1.20" stroke-linejoin="round"/><path d="M14.1,324.2L15.8,323.9 17.5,323.7 19.2,323.5 20.9,323.2 22.6,323.0 24.4,322.8 26.1,322.6 27.8,322.3 29.5,322.1 31.2,321.9 32.9,321.6 34.6,321.4 36.3,321.1 38.0,320.7 39.8,320.4 41.5,320.0 43.2,319.7 44.9,319.3 46.6,319.0 48.3,318.7 50.0,318.3 51.7,318.0 53.4,317.6 55.1,317.3 56.9,316.9 58.6,316.6 60.3,316.2 62.0,315.9 63.7,315.9 65.4,315.9 67.1,315.9 68.8,315.9 70.5,315.9 72.2,315.9 74.0,315.9 75.7,315.9 77.4,315.9 79.1,315.9 80.8,315.9 82.5,315.9 84.2,315.9 85.9,315.9 87.6,315.9 89.3,315.9 91.0,316.0 92.8,316.1 94.5,316.3 96.2,316.4 97.9,316.5 99.6,316.6 101.3,316.7 103.0,316.7 104.7,316.7 106.4,316.6 108.1,316.4 109.9,316.0 111.6,315.5 113.3,314.7 115.0,313.5 116.7,311.8 118.4,309.5 120.1,306.5 121.8,302.7 123.5,298.1 125.2,292.6 127.0,286.2 128.7,278.9 130.4,270.9 132.1,262.3 133.8,253.5 135.5,244.8 137.2,236.5 138.9,229.1 140.6,222.9 142.3,218.5 144.1,216.2 145.8,216.0 147.5,219.5 149.2,228.9 150.9,243.0 152.6,259.5 154.3,276.5 156.0,292.0 157.7,304.9 159.4,314.9 161.2,322.0 162.9,326.7 164.6,329.6 166.3,331.3 168.0,332.2 169.7,332.7 171.4,332.9 173.1,333.0 174.8,333.1 176.5,333.1 178.3,333.1 180.0,333.1 181.7,333.1 183.4,333.1 185.1,333.1 186.8,333.1 188.5,333.1 190.2,333.1 191.9,333.1 193.6,333.1 195.4,333.1 197.1,333.1 198.8,333.1 200.5,333.1 202.2,333.1 203.9,333.1 205.6,333.1 207.3,333.1 209.0,333.1 210.8,333.1 212.5,333.1 214.2,333.1 215.9,333.1 217.6,333.1 219.3,333.1" fill="none" stroke="#1F5A96" stroke-width="1.25" stroke-linejoin="round" stroke-dasharray="2,1.1"/><path d="M14.1,325.5L15.8,325.3 17.5,325.1 19.2,324.9 20.9,324.6 22.6,324.4 24.4,324.2 26.1,323.9 27.8,323.7 29.5,323.5 31.2,323.2 32.9,323.0 34.6,322.8 36.3,322.4 38.0,322.1 39.8,321.8 41.5,321.4 43.2,321.1 44.9,320.7 46.6,320.4 48.3,320.0 50.0,319.7 51.7,319.3 53.4,319.0 55.1,318.7 56.9,318.3 58.6,318.0 60.3,317.6 62.0,317.3 63.7,317.3 65.4,317.3 67.1,317.3 68.8,317.3 70.5,317.3 72.2,317.3 74.0,317.3 75.7,317.3 77.4,317.3 79.1,317.3 80.8,317.3 82.5,317.3 84.2,317.3 85.9,317.3 87.6,317.3 89.3,317.3 91.0,317.4 92.8,317.5 94.5,317.7 96.2,317.8 97.9,317.9 99.6,318.0 101.3,318.2 103.0,318.3 104.7,318.4 106.4,318.6 108.1,318.7 109.9,318.8 111.6,318.9 113.3,319.0 115.0,319.0 116.7,318.9 118.4,318.5 120.1,317.9 121.8,316.8 123.5,315.2 125.2,312.7 127.0,309.0 128.7,304.0 130.4,297.4 132.1,289.1 133.8,279.2 135.5,268.0 137.2,256.1 138.9,244.3 140.6,233.7 142.3,225.2 144.1,219.9 145.8,218.4 147.5,221.6 149.2,230.8 150.9,244.6 152.6,260.8 154.3,277.4 156.0,292.7 157.7,305.4 159.4,315.2 161.2,322.2 162.9,326.8 164.6,329.7 166.3,331.3 168.0,332.2 169.7,332.7 171.4,332.9 173.1,333.0 174.8,333.1 176.5,333.1 178.3,333.1 180.0,333.1 181.7,333.1 183.4,333.1 185.1,333.1 186.8,333.1 188.5,333.1 190.2,333.1 191.9,333.1 193.6,333.1 195.4,333.1 197.1,333.1 198.8,333.1 200.5,333.1 202.2,333.1 203.9,333.1 205.6,333.1 207.3,333.1 209.0,333.1 210.8,333.1 212.5,333.1 214.2,333.1 215.9,333.1 217.6,333.1 219.3,333.1" fill="none" stroke="#3173B8" stroke-width="1.25" stroke-linejoin="round" stroke-dasharray="2,1.1"/><path d="M14.1,322.8L15.8,322.6 17.5,322.3 19.2,322.1 20.9,321.9 22.6,321.6 24.4,321.4 26.1,321.2 27.8,321.0 29.5,320.7 31.2,320.5 32.9,320.3 34.6,320.0 36.3,319.7 38.0,319.3 39.8,319.0 41.5,318.7 43.2,318.3 44.9,318.0 46.6,317.6 48.3,317.3 50.0,316.9 51.7,316.6 53.4,316.2 55.1,315.9 56.9,315.5 58.6,315.2 60.3,314.9 62.0,314.5 63.7,314.5 65.4,314.5 67.1,314.5 68.8,314.5 70.5,314.5 72.2,314.5 74.0,314.5 75.7,314.5 77.4,314.5 79.1,314.5 80.8,314.5 82.5,314.5 84.2,314.5 85.9,314.5 87.6,314.5 89.3,314.5 91.0,314.6 92.8,314.8 94.5,314.9 96.2,315.0 97.9,315.2 99.6,315.3 101.3,315.4 103.0,315.5 104.7,315.7 106.4,315.7 108.1,315.8 109.9,315.8 111.6,315.7 113.3,315.5 115.0,315.0 116.7,314.2 118.4,312.6 120.1,310.4 121.8,307.3 123.5,303.1 125.2,297.7 127.0,291.1 128.7,283.5 130.4,275.3 132.1,266.9 133.8,259.1 135.5,252.7 137.2,248.4 138.9,246.7 140.6,247.9 142.3,252.5 144.1,259.9 145.8,269.3 147.5,279.8 149.2,290.4 150.9,300.3 152.6,308.9 154.3,316.0 156.0,321.5 157.7,325.5 159.4,328.3 161.2,330.2 162.9,331.3 164.6,331.9 166.3,332.1 168.0,332.0 169.7,331.7 171.4,331.2 173.1,330.6 174.8,329.8 176.5,328.9 178.3,328.1 180.0,327.3 181.7,326.7 183.4,326.3 185.1,326.2 186.8,326.4 188.5,326.9 190.2,327.6 191.9,328.4 193.6,329.3 195.4,330.1 197.1,330.9 198.8,331.5 200.5,332.0 202.2,332.4 203.9,332.7 205.6,332.9 207.3,333.0 209.0,333.0 210.8,333.1 212.5,333.1 214.2,333.1 215.9,333.1 217.6,333.1 219.3,333.1" fill="none" stroke="#4F94D4" stroke-width="1.25" stroke-linejoin="round" stroke-dasharray="2,1.1"/><path d="M14.1,326.6L15.8,326.4 17.5,326.1 19.2,325.9 20.9,325.7 22.6,325.4 24.4,325.2 26.1,325.0 27.8,324.7 29.5,324.5 31.2,324.3 32.9,324.1 34.6,323.8 36.3,323.5 38.0,323.1 39.8,322.8 41.5,322.4 43.2,322.1 44.9,321.8 46.6,321.4 48.3,321.1 50.0,320.7 51.7,320.4 53.4,320.0 55.1,319.7 56.9,319.3 58.6,319.0 60.3,318.7 62.0,318.3 63.7,318.3 65.4,318.3 67.1,318.3 68.8,318.3 70.5,318.3 72.2,318.3 74.0,318.3 75.7,318.3 77.4,318.3 79.1,318.3 80.8,318.3 82.5,318.3 84.2,318.3 85.9,318.3 87.6,318.3 89.3,318.3 91.0,318.4 92.8,318.6 94.5,318.7 96.2,318.8 97.9,319.0 99.6,319.1 101.3,319.2 103.0,319.3 104.7,319.5 106.4,319.6 108.1,319.7 109.9,319.9 111.6,320.0 113.3,320.1 115.0,320.2 116.7,320.4 118.4,320.4 120.1,320.4 121.8,320.4 123.5,320.4 125.2,320.3 127.0,320.3 128.7,320.3 130.4,320.2 132.1,320.0 133.8,319.8 135.5,319.4 137.2,318.7 138.9,317.7 140.6,316.3 142.3,314.3 144.1,311.6 145.8,308.0 147.5,303.5 149.2,298.0 150.9,291.6 152.6,284.4 154.3,276.9 156.0,269.3 157.7,262.3 159.4,256.3 161.2,251.9 162.9,249.6 164.6,249.5 166.3,252.1 168.0,257.1 169.7,264.2 171.4,272.6 173.1,281.7 174.8,290.8 176.5,299.5 178.3,307.2 180.0,313.8 181.7,319.2 183.4,323.4 185.1,326.6 186.8,328.9 188.5,330.5 190.2,331.5 191.9,332.2 193.6,332.6 195.4,332.8 197.1,333.0 198.8,333.0 200.5,333.1 202.2,333.1 203.9,333.1 205.6,333.1 207.3,333.1 209.0,333.1 210.8,333.1 212.5,333.1 214.2,333.1 215.9,333.1 217.6,333.1 219.3,333.1" fill="none" stroke="#9DC3E6" stroke-width="1.25" stroke-linejoin="round" stroke-dasharray="2,1.1"/><path d="M204.5,200.5H210.0" stroke="#303030" stroke-width="1.3"/><text x="210.70" y="201.95" font-size="6.00" fill="#303030" font-style="italic" stroke="#303030" stroke-width="0.05" textLength="30.50" lengthAdjust="spacingAndGlyphs">Escherichia coli</text><path d="M204.5,212.8H210.0" stroke="#F08535" stroke-width="1.3"/><text x="210.70" y="214.25" font-size="6.00" fill="#303030" font-style="italic" stroke="#303030" stroke-width="0.05" textLength="50.20" lengthAdjust="spacingAndGlyphs">Salmonella Typhimurium</text><path d="M204.5,225.2H210.0" stroke="#FF0000" stroke-width="1.3"/><text x="210.70" y="226.65" font-size="6.00" fill="#303030" font-style="italic" stroke="#303030" stroke-width="0.05" textLength="42.20" lengthAdjust="spacingAndGlyphs">Clostridium septicum</text><path d="M204.5,237.3H210.0" stroke="#00B050" stroke-width="1.3"/><text x="210.70" y="238.75" font-size="6.00" fill="#303030" font-style="italic" stroke="#303030" stroke-width="0.05" textLength="37.10" lengthAdjust="spacingAndGlyphs">Lactobacillus sakei</text><path d="M204.5,249.9H210.0" stroke="#C0504D" stroke-width="1.3"/><text x="210.70" y="251.35" font-size="6.00" fill="#303030" font-style="italic" stroke="#303030" stroke-width="0.05" textLength="40.30" lengthAdjust="spacingAndGlyphs">Enterococcus avium</text><path d="M204.5,262.3H210.0" stroke="#A95EE8" stroke-width="1.3"/><text x="210.70" y="263.75" font-size="6.00" fill="#303030" font-style="italic" stroke="#303030" stroke-width="0.05" textLength="49.50" lengthAdjust="spacingAndGlyphs">Bacteroidetes bacterium</text><path d="M204.5,274.6H210.0" stroke="#FFFF00" stroke-width="1.3"/><text x="210.70" y="276.05" font-size="6.00" fill="#303030" font-style="italic" stroke="#303030" stroke-width="0.05" textLength="8.30" lengthAdjust="spacingAndGlyphs">NTC</text><path d="M204.5,287.2H210.0" stroke="#1F5A96" stroke-width="1.3" stroke-dasharray="2,1.1"/><text x="210.70" y="288.65" font-size="6.00" fill="#303030" font-style="italic" stroke="#303030" stroke-width="0.05" textLength="30.00" lengthAdjust="spacingAndGlyphs">mcrA+ plasmid</text><path d="M204.5,299.5H210.0" stroke="#3173B8" stroke-width="1.3" stroke-dasharray="2,1.1"/><text x="210.70" y="300.95" font-size="6.00" fill="#303030" font-style="italic" stroke="#303030" stroke-width="0.05" textLength="57.00" lengthAdjust="spacingAndGlyphs">Methanobrevibacter woesei</text><path d="M204.5,311.9H210.0" stroke="#4F94D4" stroke-width="1.3" stroke-dasharray="2,1.1"/><text x="210.70" y="313.35" font-size="6.00" fill="#303030" font-style="italic" stroke="#303030" stroke-width="0.05" textLength="57.50" lengthAdjust="spacingAndGlyphs">Methanococcus maripaludis</text><path d="M204.5,324.0H210.0" stroke="#9DC3E6" stroke-width="1.3" stroke-dasharray="2,1.1"/><text x="210.70" y="325.45" font-size="6.00" fill="#303030" font-style="italic" stroke="#303030" stroke-width="0.05" textLength="54.00" lengthAdjust="spacingAndGlyphs">Methanobacterium mobile</text><path d="M288.2,197.3V334.4H497.8" fill="none" stroke="#D9D9D9" stroke-width="0.8"/><path d="M286.6,334.4H288.2" stroke="#D9D9D9" stroke-width="0.6"/><text x="282.60" y="336.05" font-size="4.60" fill="#3a3a3a" text-anchor="middle">0</text><path d="M286.6,265.8H288.2" stroke="#D9D9D9" stroke-width="0.6"/><text x="282.60" y="267.50" font-size="4.60" fill="#3a3a3a" text-anchor="middle">1</text><path d="M286.6,197.3H288.2" stroke="#D9D9D9" stroke-width="0.6"/><text x="282.60" y="198.95" font-size="4.60" fill="#3a3a3a" text-anchor="middle">2</text><text x="291.50" y="341.20" font-size="4.60" fill="#3a3a3a" text-anchor="middle" transform="rotate(-90 291.50 341.20)">65</text><text x="298.43" y="341.20" font-size="4.60" fill="#3a3a3a" text-anchor="middle" transform="rotate(-90 298.43 341.20)">66</text><text x="305.36" y="341.20" font-size="4.60" fill="#3a3a3a" text-anchor="middle" transform="rotate(-90 305.36 341.20)">67</text><text x="312.29" y="341.20" font-size="4.60" fill="#3a3a3a" text-anchor="middle" transform="rotate(-90 312.29 341.20)">68</text><text x="319.22" y="341.20" font-size="4.60" fill="#3a3a3a" text-anchor="middle" transform="rotate(-90 319.22 341.20)">69</text><text x="326.15" y="341.20" font-size="4.60" fill="#3a3a3a" text-anchor="middle" transform="rotate(-90 326.15 341.20)">70</text><text x="333.08" y="341.20" font-size="4.60" fill="#3a3a3a" text-anchor="middle" transform="rotate(-90 333.08 341.20)">71</text><text x="340.01" y="341.20" font-size="4.60" fill="#3a3a3a" text-anchor="middle" transform="rotate(-90 340.01 341.20)">72</text><text x="346.94" y="341.20" font-size="4.60" fill="#3a3a3a" text-anchor="middle" transform="rotate(-90 346.94 341.20)">73</text><text x="353.87" y="341.20" font-size="4.60" fill="#3a3a3a" text-anchor="middle" transform="rotate(-90 353.87 341.20)">74</text><text x="360.80" y="341.20" font-size="4.60" fill="#3a3a3a" text-anchor="middle" transform="rotate(-90 360.80 341.20)">75</text><text x="367.73" y="341.20" font-size="4.60" fill="#3a3a3a" text-anchor="middle" transform="rotate(-90 367.73 341.20)">76</text><text x="374.66" y="341.20" font-size="4.60" fill="#3a3a3a" text-anchor="middle" transform="rotate(-90 374.66 341.20)">77</text><text x="381.59" y="341.20" font-size="4.60" fill="#3a3a3a" text-anchor="middle" transform="rotate(-90 381.59 341.20)">78</text><text x="388.52" y="341.20" font-size="4.60" fill="#3a3a3a" text-anchor="middle" transform="rotate(-90 388.52 341.20)">79</text><text x="395.45" y="341.20" font-size="4.60" fill="#3a3a3a" text-anchor="middle" transform="rotate(-90 395.45 341.20)">80</text><text x="402.38" y="341.20" font-size="4.60" fill="#3a3a3a" text-anchor="middle" transform="rotate(-90 402.38 341.20)">81</text><text x="409.31" y="341.20" font-size="4.60" fill="#3a3a3a" text-anchor="middle" transform="rotate(-90 409.31 341.20)">82</text><text x="416.24" y="341.20" font-size="4.60" fill="#3a3a3a" text-anchor="middle" transform="rotate(-90 416.24 341.20)">83</text><text x="423.17" y="341.20" font-size="4.60" fill="#3a3a3a" text-anchor="middle" transform="rotate(-90 423.17 341.20)">84</text><text x="430.10" y="341.20" font-size="4.60" fill="#3a3a3a" text-anchor="middle" transform="rotate(-90 430.10 341.20)">85</text><text x="437.03" y="341.20" font-size="4.60" fill="#3a3a3a" text-anchor="middle" transform="rotate(-90 437.03 341.20)">86</text><text x="443.96" y="341.20" font-size="4.60" fill="#3a3a3a" text-anchor="middle" transform="rotate(-90 443.96 341.20)">87</text><text x="450.89" y="341.20" font-size="4.60" fill="#3a3a3a" text-anchor="middle" transform="rotate(-90 450.89 341.20)">88</text><text x="457.82" y="341.20" font-size="4.60" fill="#3a3a3a" text-anchor="middle" transform="rotate(-90 457.82 341.20)">89</text><text x="464.75" y="341.20" font-size="4.60" fill="#3a3a3a" text-anchor="middle" transform="rotate(-90 464.75 341.20)">90</text><text x="471.68" y="341.20" font-size="4.60" fill="#3a3a3a" text-anchor="middle" transform="rotate(-90 471.68 341.20)">91</text><text x="478.61" y="341.20" font-size="4.60" fill="#3a3a3a" text-anchor="middle" transform="rotate(-90 478.61 341.20)">92</text><text x="485.54" y="341.20" font-size="4.60" fill="#3a3a3a" text-anchor="middle" transform="rotate(-90 485.54 341.20)">93</text><text x="492.47" y="341.20" font-size="4.60" fill="#3a3a3a" text-anchor="middle" transform="rotate(-90 492.47 341.20)">94</text><text x="394.00" y="351.70" font-size="6.40" fill="#333333" text-anchor="middle" textLength="30.50" lengthAdjust="spacingAndGlyphs">Temperature</text><text x="285.00" y="245.60" font-size="6.40" fill="#333333" text-anchor="middle" transform="rotate(-90 285.00 245.60)" textLength="26.80" lengthAdjust="spacingAndGlyphs">-d(RFU)/dT</text><text x="410.40" y="206.20" font-size="10.30" fill="#000" font-weight="bold" text-anchor="middle" textLength="71.70" lengthAdjust="spacingAndGlyphs">mcrA_F3/mcrA-rev</text><path d="M289.9,317.9L291.6,317.0 293.4,316.1 295.1,315.2 296.8,314.3 298.6,313.5 300.3,312.7 302.0,312.0 303.8,311.3 305.5,310.7 307.2,310.2 309.0,309.6 310.7,309.1 312.4,308.6 314.2,308.1 315.9,307.7 317.6,307.2 319.4,306.7 321.1,306.3 322.8,305.8 324.5,305.3 326.3,304.8 328.0,304.3 329.7,303.8 331.5,303.3 333.2,302.8 334.9,302.4 336.7,302.0 338.4,301.6 340.1,301.3 341.9,301.1 343.6,300.8 345.3,300.6 347.1,300.5 348.8,300.3 350.5,300.2 352.3,300.1 354.0,300.1 355.7,300.2 357.5,300.3 359.2,300.5 360.9,300.7 362.7,300.9 364.4,301.3 366.1,301.9 367.9,302.7 369.6,303.5 371.3,304.5 373.1,305.5 374.8,306.5 376.5,307.8 378.3,309.5 380.0,311.3 381.7,313.2 383.5,315.0 385.2,316.7 386.9,318.2 388.7,319.2 390.4,319.8 392.1,320.4 393.8,321.0 395.6,321.4 397.3,321.8 399.0,322.2 400.8,322.4 402.5,322.6 404.2,322.7 406.0,322.8 407.7,322.7 409.4,322.5 411.2,322.2 412.9,321.9 414.6,321.6 416.4,321.2 418.1,320.9 419.8,320.7 421.6,320.6 423.3,320.5 425.0,320.6 426.8,320.9 428.5,321.6 430.2,322.5 432.0,323.6 433.7,324.7 435.4,325.8 437.2,326.7 438.9,327.5 440.6,328.2 442.4,328.9 444.1,329.6 445.8,330.2 447.6,330.7 449.3,331.1 451.0,331.4 452.8,331.8 454.5,332.1 456.2,332.3 458.0,332.6 459.7,332.8 461.4,332.9 463.1,333.0 464.9,333.1 466.6,333.2 468.3,333.2 470.1,333.3 471.8,333.3 473.5,333.4 475.3,333.4 477.0,333.4 478.7,333.4 480.5,333.4 482.2,333.4 483.9,333.4 485.7,333.4 487.4,333.4 489.1,333.4 490.9,333.3 492.6,333.3 494.3,333.2 496.1,333.1 497.8,333.0" fill="none" stroke="#303030" stroke-width="1.20" stroke-linejoin="round"/><path d="M289.9,324.1L291.6,322.6 293.4,321.0 295.1,319.5 296.8,318.1 298.6,316.8 300.3,315.7 302.0,314.7 303.8,314.0 305.5,313.6 307.2,313.2 309.0,312.8 310.7,312.4 312.4,312.0 314.2,311.7 315.9,311.4 317.6,311.1 319.4,310.8 321.1,310.5 322.8,310.2 324.5,309.9 326.3,309.6 328.0,309.3 329.7,309.0 331.5,308.6 333.2,308.3 334.9,307.9 336.7,307.6 338.4,307.2 340.1,306.8 341.9,306.5 343.6,306.1 345.3,305.7 347.1,305.4 348.8,305.0 350.5,304.6 352.3,304.3 354.0,304.0 355.7,303.7 357.5,303.4 359.2,303.2 360.9,303.0 362.7,303.0 364.4,303.0 366.1,303.0 367.9,303.2 369.6,303.4 371.3,303.8 373.1,304.6 374.8,305.7 376.5,307.0 378.3,308.6 380.0,310.2 381.7,311.8 383.5,313.4 385.2,314.9 386.9,316.2 388.7,317.1 390.4,317.8 392.1,318.5 393.8,319.2 395.6,319.8 397.3,320.4 399.0,320.9 400.8,321.4 402.5,321.8 404.2,322.2 406.0,322.5 407.7,322.7 409.4,322.8 411.2,322.8 412.9,322.7 414.6,322.5 416.4,322.3 418.1,322.1 419.8,321.9 421.6,321.8 423.3,321.8 425.0,322.0 426.8,322.3 428.5,322.8 430.2,323.5 432.0,324.2 433.7,325.0 435.4,325.9 437.2,326.7 438.9,327.5 440.6,328.4 442.4,329.3 444.1,330.2 445.8,331.0 447.6,331.8 449.3,332.3 451.0,332.8 452.8,333.2 454.5,333.6 456.2,333.9 458.0,334.2 459.7,334.4 461.4,334.7 463.1,334.8 464.9,335.0 466.6,335.1 468.3,335.2 470.1,335.3 471.8,335.3 473.5,335.3 475.3,335.3 477.0,335.2 478.7,335.1 480.5,335.0 482.2,334.9 483.9,334.8 485.7,334.6 487.4,334.4 489.1,334.2 490.9,334.0 492.6,333.8 494.3,333.6 496.1,333.3 497.8,333.0" fill="none" stroke="#F08535" stroke-width="1.20" stroke-linejoin="round"/><path d="M289.9,322.1L291.6,321.0 293.4,320.0 295.1,319.0 296.8,318.1 298.6,317.2 300.3,316.4 302.0,315.8 303.8,315.3 305.5,315.0 307.2,314.8 309.0,314.6 310.7,314.4 312.4,314.3 314.2,314.1 315.9,314.0 317.6,313.8 319.4,313.7 321.1,313.5 322.8,313.3 324.5,313.0 326.3,312.7 328.0,312.4 329.7,312.2 331.5,311.9 333.2,311.6 334.9,311.2 336.7,310.9 338.4,310.6 340.1,310.2 341.9,309.9 343.6,309.5 345.3,309.0 347.1,308.5 348.8,307.9 350.5,307.3 352.3,306.8 354.0,306.2 355.7,305.8 357.5,305.4 359.2,305.1 360.9,304.8 362.7,304.6 364.4,304.5 366.1,304.5 367.9,304.6 369.6,304.8 371.3,305.2 373.1,305.8 374.8,306.7 376.5,307.8 378.3,309.1 380.0,310.4 381.7,311.7 383.5,313.0 385.2,314.1 386.9,315.1 388.7,315.8 390.4,316.3 392.1,316.7 393.8,317.1 395.6,317.4 397.3,317.7 399.0,317.9 400.8,318.0 402.5,318.0 404.2,318.0 406.0,317.8 407.7,317.6 409.4,317.2 411.2,316.7 412.9,316.1 414.6,315.5 416.4,315.0 418.1,314.4 419.8,313.9 421.6,313.5 423.3,313.2 425.0,313.1 426.8,313.5 428.5,314.2 430.2,315.2 432.0,316.3 433.7,317.5 435.4,319.6 437.2,322.3 438.9,325.0 440.6,327.1 442.4,328.1 444.1,328.9 445.8,329.6 447.6,330.3 449.3,330.9 451.0,331.4 452.8,331.8 454.5,332.1 456.2,332.3 458.0,332.4 459.7,332.5 461.4,332.7 463.1,332.8 464.9,332.9 466.6,333.0 468.3,333.1 470.1,333.2 471.8,333.3 473.5,333.4 475.3,333.5 477.0,333.5 478.7,333.6 480.5,333.6 482.2,333.6 483.9,333.7 485.7,333.6 487.4,333.6 489.1,333.6 490.9,333.5 492.6,333.4 494.3,333.3 496.1,333.2 497.8,333.0" fill="none" stroke="#FF0000" stroke-width="1.20" stroke-linejoin="round"/><path d="M289.9,319.3L291.6,318.6 293.4,317.9 295.1,317.3 296.8,316.6 298.6,315.9 300.3,315.3 302.0,314.7 303.8,314.1 305.5,313.5 307.2,312.9 309.0,312.2 310.7,311.6 312.4,311.0 314.2,310.4 315.9,309.8 317.6,309.2 319.4,308.6 321.1,308.0 322.8,307.5 324.5,306.9 326.3,306.5 328.0,306.0 329.7,305.6 331.5,305.2 333.2,304.9 334.9,304.6 336.7,304.3 338.4,304.1 340.1,303.9 341.9,303.8 343.6,303.7 345.3,303.6 347.1,303.6 348.8,303.5 350.5,303.5 352.3,303.6 354.0,303.6 355.7,303.8 357.5,304.0 359.2,304.2 360.9,304.5 362.7,304.9 364.4,305.3 366.1,305.7 367.9,306.2 369.6,306.7 371.3,307.3 373.1,307.9 374.8,308.5 376.5,309.4 378.3,310.6 380.0,312.0 381.7,313.6 383.5,315.1 385.2,316.5 386.9,317.7 388.7,318.5 390.4,319.0 392.1,319.5 393.8,319.9 395.6,320.3 397.3,320.7 399.0,321.0 400.8,321.3 402.5,321.5 404.2,321.7 406.0,321.9 407.7,322.0 409.4,322.1 411.2,322.1 412.9,322.0 414.6,321.8 416.4,321.6 418.1,321.4 419.8,321.3 421.6,321.2 423.3,321.2 425.0,321.3 426.8,321.6 428.5,322.2 430.2,323.2 432.0,324.2 433.7,325.3 435.4,326.4 437.2,327.4 438.9,328.2 440.6,329.0 442.4,329.8 444.1,330.6 445.8,331.3 447.6,331.9 449.3,332.3 451.0,332.7 452.8,333.0 454.5,333.3 456.2,333.6 458.0,333.8 459.7,334.0 461.4,334.2 463.1,334.3 464.9,334.5 466.6,334.6 468.3,334.7 470.1,334.7 471.8,334.8 473.5,334.8 475.3,334.8 477.0,334.8 478.7,334.7 480.5,334.6 482.2,334.6 483.9,334.5 485.7,334.3 487.4,334.2 489.1,334.0 490.9,333.9 492.6,333.7 494.3,333.5 496.1,333.3 497.8,333.0" fill="none" stroke="#00B050" stroke-width="1.20" stroke-linejoin="round"/><path d="M289.9,320.7L291.6,320.0 293.4,319.2 295.1,318.5 296.8,317.8 298.6,317.2 300.3,316.5 302.0,316.0 303.8,315.4 305.5,314.9 307.2,314.4 309.0,313.9 310.7,313.4 312.4,313.0 314.2,312.5 315.9,312.0 317.6,311.6 319.4,311.2 321.1,310.7 322.8,310.3 324.5,310.0 326.3,309.6 328.0,309.2 329.7,308.9 331.5,308.6 333.2,308.3 334.9,308.0 336.7,307.8 338.4,307.5 340.1,307.3 341.9,307.1 343.6,306.9 345.3,306.7 347.1,306.6 348.8,306.4 350.5,306.3 352.3,306.3 354.0,306.3 355.7,306.4 357.5,306.6 359.2,306.9 360.9,307.2 362.7,307.6 364.4,308.0 366.1,308.5 367.9,309.0 369.6,309.5 371.3,310.1 373.1,310.9 374.8,311.9 376.5,313.0 378.3,314.2 380.0,315.4 381.7,316.6 383.5,317.8 385.2,318.9 386.9,319.8 388.7,320.6 390.4,321.1 392.1,321.7 393.8,322.2 395.6,322.7 397.3,323.1 399.0,323.5 400.8,323.9 402.5,324.2 404.2,324.4 406.0,324.6 407.7,324.8 409.4,324.8 411.2,324.7 412.9,324.4 414.6,324.0 416.4,323.5 418.1,323.0 419.8,322.6 421.6,322.2 423.3,322.0 425.0,322.0 426.8,322.3 428.5,323.0 430.2,324.1 432.0,325.3 433.7,326.6 435.4,327.8 437.2,328.8 438.9,329.4 440.6,330.1 442.4,330.7 444.1,331.2 445.8,331.7 447.6,332.1 449.3,332.3 451.0,332.5 452.8,332.7 454.5,332.9 456.2,333.0 458.0,333.2 459.7,333.3 461.4,333.4 463.1,333.5 464.9,333.6 466.6,333.7 468.3,333.8 470.1,333.9 471.8,333.9 473.5,333.9 475.3,334.0 477.0,334.0 478.7,334.0 480.5,333.9 482.2,333.9 483.9,333.9 485.7,333.8 487.4,333.7 489.1,333.7 490.9,333.6 492.6,333.4 494.3,333.3 496.1,333.2 497.8,333.0" fill="none" stroke="#C0504D" stroke-width="1.20" stroke-linejoin="round"/><path d="M289.9,315.2L291.6,314.4 293.4,313.5 295.1,312.7 296.8,311.9 298.6,311.1 300.3,310.2 302.0,309.5 303.8,308.7 305.5,307.9 307.2,307.1 309.0,306.4 310.7,305.6 312.4,304.9 314.2,304.1 315.9,303.4 317.6,302.7 319.4,301.9 321.1,301.2 322.8,300.4 324.5,299.7 326.3,298.8 328.0,297.9 329.7,297.0 331.5,296.2 333.2,295.4 334.9,294.7 336.7,294.1 338.4,293.6 340.1,293.3 341.9,293.2 343.6,293.2 345.3,293.4 347.1,293.6 348.8,294.0 350.5,294.4 352.3,295.1 354.0,295.9 355.7,296.8 357.5,297.9 359.2,299.0 360.9,300.1 362.7,301.3 364.4,302.6 366.1,304.0 367.9,305.6 369.6,307.1 371.3,308.6 373.1,310.1 374.8,311.6 376.5,313.1 378.3,314.6 380.0,316.1 381.7,317.5 383.5,319.0 385.2,320.5 386.9,322.0 388.7,323.4 390.4,324.7 392.1,325.7 393.8,326.5 395.6,327.1 397.3,327.8 399.0,328.3 400.8,328.9 402.5,329.3 404.2,329.7 406.0,330.0 407.7,330.2 409.4,330.4 411.2,330.5 412.9,330.7 414.6,330.8 416.4,330.9 418.1,331.1 419.8,331.2 421.6,331.3 423.3,331.4 425.0,331.5 426.8,331.7 428.5,331.8 430.2,331.8 432.0,331.9 433.7,332.0 435.4,332.1 437.2,332.2 438.9,332.3 440.6,332.4 442.4,332.4 444.1,332.5 445.8,332.6 447.6,332.7 449.3,332.8 451.0,332.8 452.8,332.9 454.5,332.9 456.2,333.0 458.0,333.0 459.7,333.1 461.4,333.1 463.1,333.1 464.9,333.1 466.6,333.1 468.3,333.2 470.1,333.2 471.8,333.2 473.5,333.2 475.3,333.2 477.0,333.2 478.7,333.2 480.5,333.2 482.2,333.2 483.9,333.2 485.7,333.2 487.4,333.2 489.1,333.1 490.9,333.1 492.6,333.1 494.3,333.1 496.1,333.1 497.8,333.0" fill="none" stroke="#A95EE8" stroke-width="1.20" stroke-linejoin="round"/><path d="M289.9,317.9L291.6,317.0 293.4,316.1 295.1,315.2 296.8,314.3 298.6,313.4 300.3,312.5 302.0,311.6 303.8,310.7 305.5,309.9 307.2,309.1 309.0,308.3 310.7,307.5 312.4,306.7 314.2,305.9 315.9,305.1 317.6,304.3 319.4,303.5 321.1,302.7 322.8,301.8 324.5,301.0 326.3,300.1 328.0,299.1 329.7,298.2 331.5,297.2 333.2,296.2 334.9,295.2 336.7,294.3 338.4,293.3 340.1,292.4 341.9,291.6 343.6,290.7 345.3,289.9 347.1,289.1 348.8,288.3 350.5,287.6 352.3,287.0 354.0,286.5 355.7,286.2 357.5,286.4 359.2,286.8 360.9,287.4 362.7,288.2 364.4,289.1 366.1,290.6 367.9,292.6 369.6,294.8 371.3,297.2 373.1,299.8 374.8,302.8 376.5,305.8 378.3,308.8 380.0,312.0 381.7,315.0 383.5,317.5 385.2,319.8 386.9,322.0 388.7,324.0 390.4,325.6 392.1,327.0 393.8,327.9 395.6,328.7 397.3,329.5 399.0,330.2 400.8,330.8 402.5,331.2 404.2,331.6 406.0,331.8 407.7,332.0 409.4,332.1 411.2,332.3 412.9,332.5 414.6,332.6 416.4,332.8 418.1,332.9 419.8,333.0 421.6,333.0 423.3,333.1 425.0,333.1 426.8,333.1 428.5,333.1 430.2,333.2 432.0,333.2 433.7,333.2 435.4,333.2 437.2,333.3 438.9,333.3 440.6,333.3 442.4,333.3 444.1,333.4 445.8,333.4 447.6,333.4 449.3,333.4 451.0,333.4 452.8,333.4 454.5,333.5 456.2,333.5 458.0,333.5 459.7,333.5 461.4,333.5 463.1,333.5 464.9,333.5 466.6,333.5 468.3,333.5 470.1,333.5 471.8,333.5 473.5,333.5 475.3,333.5 477.0,333.4 478.7,333.4 480.5,333.4 482.2,333.4 483.9,333.4 485.7,333.3 487.4,333.3 489.1,333.3 490.9,333.2 492.6,333.2 494.3,333.1 496.1,333.1 497.8,333.0" fill="none" stroke="#FFFF00" stroke-width="1.20" stroke-linejoin="round"/><path d="M289.9,313.8L291.6,313.7 293.4,313.6 295.1,313.5 296.8,313.4 298.6,313.3 300.3,313.1 302.0,313.0 303.8,312.9 305.5,312.8 307.2,312.7 309.0,312.6 310.7,312.5 312.4,312.3 314.2,312.2 315.9,312.1 317.6,312.0 319.4,311.9 321.1,311.8 322.8,311.7 324.5,311.6 326.3,311.4 328.0,311.3 329.7,311.2 331.5,311.1 333.2,311.2 334.9,311.3 336.7,311.4 338.4,311.5 340.1,311.6 341.9,311.7 343.6,311.8 345.3,311.9 347.1,312.0 348.8,312.1 350.5,312.2 352.3,312.3 354.0,312.4 355.7,312.5 357.5,312.6 359.2,312.7 360.9,312.8 362.7,312.9 364.4,313.0 366.1,313.1 367.9,313.2 369.6,313.3 371.3,313.4 373.1,313.5 374.8,313.6 376.5,313.7 378.3,313.7 380.0,313.8 381.7,313.9 383.5,314.0 385.2,314.1 386.9,314.2 388.7,314.2 390.4,314.3 392.1,314.3 393.8,314.1 395.6,313.8 397.3,313.1 399.0,311.8 400.8,309.3 402.5,305.3 404.2,299.3 406.0,291.0 407.7,280.1 409.4,266.8 411.2,252.3 412.9,237.7 414.6,225.1 416.4,216.1 418.1,212.3 419.8,214.2 421.6,220.6 423.3,230.6 425.0,243.3 426.8,257.3 428.5,271.5 430.2,284.9 432.0,296.8 433.7,306.7 435.4,314.5 437.2,320.4 438.9,324.7 440.6,327.6 442.4,329.5 444.1,330.7 445.8,331.5 447.6,331.9 449.3,332.1 451.0,332.2 452.8,332.3 454.5,332.3 456.2,332.3 458.0,332.3 459.7,332.3 461.4,332.3 463.1,332.3 464.9,332.3 466.6,332.3 468.3,332.3 470.1,332.3 471.8,332.3 473.5,332.3 475.3,332.3 477.0,332.3 478.7,332.3 480.5,332.3 482.2,332.3 483.9,332.3 485.7,332.3 487.4,332.3 489.1,332.3 490.9,332.3 492.6,332.3 494.3,332.3 496.1,332.3 497.8,332.3" fill="none" stroke="#1F5A96" stroke-width="1.25" stroke-linejoin="round" stroke-dasharray="2,1.1"/><path d="M289.9,315.5L291.6,315.4 293.4,315.3 295.1,315.2 296.8,315.1 298.6,315.0 300.3,314.9 302.0,314.7 303.8,314.6 305.5,314.5 307.2,314.4 309.0,314.3 310.7,314.2 312.4,314.1 314.2,313.9 315.9,313.8 317.6,313.7 319.4,313.6 321.1,313.5 322.8,313.4 324.5,313.3 326.3,313.1 328.0,313.0 329.7,312.9 331.5,312.8 333.2,312.9 334.9,313.0 336.7,313.1 338.4,313.2 340.1,313.3 341.9,313.4 343.6,313.5 345.3,313.6 347.1,313.7 348.8,313.8 350.5,313.9 352.3,314.0 354.0,314.1 355.7,314.2 357.5,314.3 359.2,314.5 360.9,314.6 362.7,314.7 364.4,314.8 366.1,314.9 367.9,314.9 369.6,315.0 371.3,315.1 373.1,315.2 374.8,315.3 376.5,315.4 378.3,315.4 380.0,315.5 381.7,315.5 383.5,315.4 385.2,315.2 386.9,314.9 388.7,314.2 390.4,313.1 392.1,311.3 393.8,308.7 395.6,305.1 397.3,300.2 399.0,293.7 400.8,285.7 402.5,276.2 404.2,265.5 406.0,254.2 407.7,243.0 409.4,232.7 411.2,224.3 412.9,218.8 414.6,216.8 416.4,218.7 418.1,224.7 419.8,234.3 421.6,246.4 423.3,259.9 425.0,273.6 426.8,286.5 428.5,297.9 430.2,307.4 432.0,314.9 433.7,320.4 435.4,324.3 437.2,326.7 438.9,327.9 440.6,328.1 442.4,327.6 444.1,326.5 445.8,324.8 447.6,322.7 449.3,320.4 451.0,317.9 452.8,315.6 454.5,313.6 456.2,312.1 458.0,311.2 459.7,311.1 461.4,311.6 463.1,312.6 464.9,314.1 466.6,315.8 468.3,317.8 470.1,319.9 471.8,321.9 473.5,323.9 475.3,325.6 477.0,327.1 478.7,328.4 480.5,329.5 482.2,330.3 483.9,330.9 485.7,331.4 487.4,331.7 489.1,331.9 490.9,332.1 492.6,332.2 494.3,332.2 496.1,332.3 497.8,332.3" fill="none" stroke="#3173B8" stroke-width="1.25" stroke-linejoin="round" stroke-dasharray="2,1.1"/><path d="M289.9,312.5L291.6,312.3 293.4,312.2 295.1,312.1 296.8,312.0 298.6,311.9 300.3,311.8 302.0,311.7 303.8,311.6 305.5,311.4 307.2,311.3 309.0,311.2 310.7,311.1 312.4,311.0 314.2,310.9 315.9,310.8 317.6,310.6 319.4,310.5 321.1,310.4 322.8,310.3 324.5,310.2 326.3,310.1 328.0,310.0 329.7,309.8 331.5,309.7 333.2,309.8 334.9,309.9 336.7,310.0 338.4,310.1 340.1,310.2 341.9,310.3 343.6,310.4 345.3,310.5 347.1,310.6 348.8,310.8 350.5,310.9 352.3,311.0 354.0,311.1 355.7,311.2 357.5,311.3 359.2,311.4 360.9,311.5 362.7,311.6 364.4,311.7 366.1,311.8 367.9,311.9 369.6,311.9 371.3,312.0 373.1,312.1 374.8,312.2 376.5,312.3 378.3,312.4 380.0,312.5 381.7,312.5 383.5,312.6 385.2,312.7 386.9,312.8 388.7,312.9 390.4,313.0 392.1,313.0 393.8,313.0 395.6,313.1 397.3,313.0 399.0,312.8 400.8,312.2 402.5,311.1 404.2,309.3 406.0,306.4 407.7,302.2 409.4,296.2 411.2,288.4 412.9,278.7 414.6,267.6 416.4,255.6 418.1,243.6 419.8,232.8 421.6,224.5 423.3,219.7 425.0,219.1 426.8,222.7 428.5,230.0 430.2,240.1 432.0,252.1 433.7,265.0 435.4,277.7 437.2,289.6 438.9,300.1 440.6,308.8 442.4,315.7 444.1,321.0 445.8,324.7 447.6,327.3 449.3,328.9 451.0,329.8 452.8,330.2 454.5,330.2 456.2,330.0 458.0,329.6 459.7,329.0 461.4,328.4 463.1,327.8 464.9,327.3 466.6,326.8 468.3,326.4 470.1,326.2 471.8,326.2 473.5,326.3 475.3,326.6 477.0,327.0 478.7,327.5 480.5,328.1 482.2,328.7 483.9,329.3 485.7,329.9 487.4,330.4 489.1,330.9 490.9,331.3 492.6,331.6 494.3,331.8 496.1,332.0 497.8,332.1" fill="none" stroke="#4F94D4" stroke-width="1.25" stroke-linejoin="round" stroke-dasharray="2,1.1"/><path d="M289.9,316.9L291.6,316.8 293.4,316.7 295.1,316.6 296.8,316.5 298.6,316.3 300.3,316.2 302.0,316.1 303.8,316.0 305.5,315.9 307.2,315.8 309.0,315.7 310.7,315.5 312.4,315.4 314.2,315.3 315.9,315.2 317.6,315.1 319.4,315.0 321.1,314.9 322.8,314.7 324.5,314.6 326.3,314.5 328.0,314.4 329.7,314.3 331.5,314.2 333.2,314.3 334.9,314.4 336.7,314.5 338.4,314.6 340.1,314.7 341.9,314.8 343.6,314.9 345.3,315.0 347.1,315.1 348.8,315.2 350.5,315.3 352.3,315.4 354.0,315.5 355.7,315.6 357.5,315.7 359.2,315.8 360.9,315.9 362.7,316.0 364.4,316.1 366.1,316.2 367.9,316.3 369.6,316.4 371.3,316.5 373.1,316.6 374.8,316.7 376.5,316.7 378.3,316.8 380.0,316.9 381.7,317.0 383.5,317.1 385.2,317.2 386.9,317.3 388.7,317.3 390.4,317.4 392.1,317.5 393.8,317.6 395.6,317.8 397.3,317.9 399.0,318.1 400.8,318.3 402.5,318.5 404.2,318.6 406.0,318.8 407.7,318.9 409.4,318.8 411.2,318.7 412.9,318.4 414.6,317.9 416.4,317.0 418.1,315.6 419.8,313.3 421.6,309.8 423.3,304.9 425.0,298.3 426.8,289.9 428.5,279.7 430.2,268.4 432.0,256.6 433.7,245.4 435.4,236.0 437.2,229.5 438.9,226.9 440.6,229.0 442.4,237.0 444.1,249.7 445.8,265.1 447.6,281.0 449.3,295.5 451.0,307.5 452.8,316.6 454.5,323.0 456.2,327.1 458.0,329.6 459.7,330.9 461.4,331.7 463.1,332.0 464.9,332.2 466.6,332.3 468.3,332.3 470.1,332.3 471.8,332.3 473.5,332.3 475.3,332.3 477.0,332.3 478.7,332.3 480.5,332.3 482.2,332.3 483.9,332.3 485.7,332.3 487.4,332.3 489.1,332.3 490.9,332.3 492.6,332.3 494.3,332.3 496.1,332.3 497.8,332.3" fill="none" stroke="#9DC3E6" stroke-width="1.25" stroke-linejoin="round" stroke-dasharray="2,1.1"/><path d="M481.3,203.4H486.8" stroke="#303030" stroke-width="1.3"/><text x="487.70" y="204.85" font-size="6.00" fill="#303030" font-style="italic" stroke="#303030" stroke-width="0.05" textLength="30.50" lengthAdjust="spacingAndGlyphs">Escherichia coli</text><path d="M481.3,215.5H486.8" stroke="#F08535" stroke-width="1.3"/><text x="487.70" y="216.95" font-size="6.00" fill="#303030" font-style="italic" stroke="#303030" stroke-width="0.05" textLength="50.20" lengthAdjust="spacingAndGlyphs">Salmonella Typhimurium</text><path d="M481.3,227.5H486.8" stroke="#FF0000" stroke-width="1.3"/><text x="487.70" y="228.95" font-size="6.00" fill="#303030" font-style="italic" stroke="#303030" stroke-width="0.05" textLength="42.20" lengthAdjust="spacingAndGlyphs">Clostridium septicum</text><path d="M481.3,239.5H486.8" stroke="#00B050" stroke-width="1.3"/><text x="487.70" y="240.95" font-size="6.00" fill="#303030" font-style="italic" stroke="#303030" stroke-width="0.05" textLength="37.10" lengthAdjust="spacingAndGlyphs">Lactobacillus sakei</text><path d="M481.3,251.9H486.8" stroke="#C0504D" stroke-width="1.3"/><text x="487.70" y="253.35" font-size="6.00" fill="#303030" font-style="italic" stroke="#303030" stroke-width="0.05" textLength="40.30" lengthAdjust="spacingAndGlyphs">Enterococcus avium</text><path d="M481.3,264.0H486.8" stroke="#A95EE8" stroke-width="1.3"/><text x="487.70" y="265.45" font-size="6.00" fill="#303030" font-style="italic" stroke="#303030" stroke-width="0.05" textLength="49.50" lengthAdjust="spacingAndGlyphs">Bacteroidetes bacterium</text><path d="M481.3,276.4H486.8" stroke="#FFFF00" stroke-width="1.3"/><text x="487.70" y="277.85" font-size="6.00" fill="#303030" font-style="italic" stroke="#303030" stroke-width="0.05" textLength="8.30" lengthAdjust="spacingAndGlyphs">NTC</text><path d="M481.3,288.3H486.8" stroke="#1F5A96" stroke-width="1.3" stroke-dasharray="2,1.1"/><text x="487.70" y="289.75" font-size="6.00" fill="#303030" font-style="italic" stroke="#303030" stroke-width="0.05" textLength="30.00" lengthAdjust="spacingAndGlyphs">mcrA+ plasmid</text><path d="M481.3,300.6H486.8" stroke="#3173B8" stroke-width="1.3" stroke-dasharray="2,1.1"/><text x="487.70" y="302.05" font-size="6.00" fill="#303030" font-style="italic" stroke="#303030" stroke-width="0.05" textLength="57.00" lengthAdjust="spacingAndGlyphs">Methanobrevibacter woesei</text><path d="M481.3,312.6H486.8" stroke="#4F94D4" stroke-width="1.3" stroke-dasharray="2,1.1"/><text x="487.70" y="314.05" font-size="6.00" fill="#303030" font-style="italic" stroke="#303030" stroke-width="0.05" textLength="57.50" lengthAdjust="spacingAndGlyphs">Methanococcus maripaludis</text><path d="M481.3,324.7H486.8" stroke="#9DC3E6" stroke-width="1.3" stroke-dasharray="2,1.1"/><text x="487.70" y="326.15" font-size="6.00" fill="#303030" font-style="italic" stroke="#303030" stroke-width="0.05" textLength="54.00" lengthAdjust="spacingAndGlyphs">Methanobacterium mobile</text></svg></body></html>
